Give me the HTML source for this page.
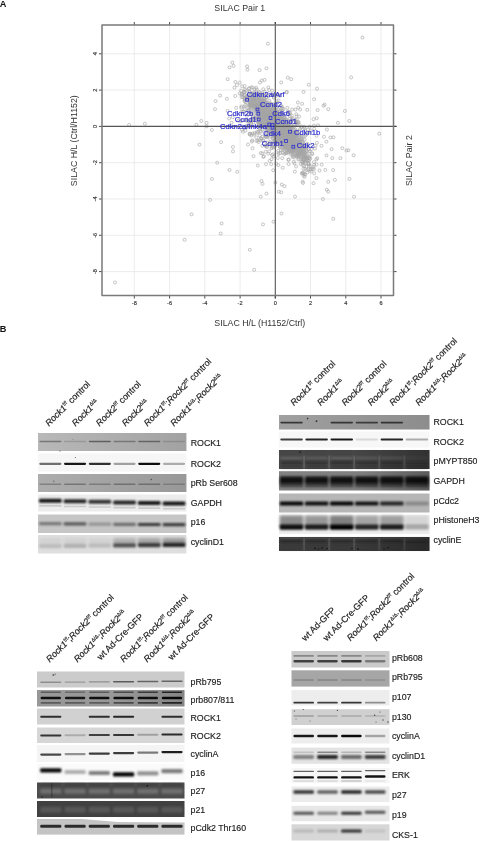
<!DOCTYPE html>
<html><head><meta charset="utf-8"><title>Figure</title>
<style>
html,body{margin:0;padding:0;background:#fff;}
svg{display:block;}
text{font-family:"Liberation Sans", Arial, sans-serif;}
</style></head><body>
<svg width="480" height="841" viewBox="0 0 480 841">
<defs>
<filter id="b1" x="-10%" y="-200%" width="120%" height="500%"><feGaussianBlur stdDeviation="0.7 0.5"/></filter>
<filter id="b2" x="-10%" y="-200%" width="120%" height="500%"><feGaussianBlur stdDeviation="1.0 0.9"/></filter>
<filter id="b3" x="-10%" y="-200%" width="120%" height="500%"><feGaussianBlur stdDeviation="1.4 1.6"/></filter>
<filter id="cb" x="-20%" y="-20%" width="140%" height="140%"><feGaussianBlur stdDeviation="2.2"/></filter>
<linearGradient id="gr" x1="0" x2="1" y1="0" y2="0"><stop offset="0" stop-color="#000" stop-opacity="0"/><stop offset="0.55" stop-color="#000" stop-opacity="0.03"/><stop offset="1" stop-color="#000" stop-opacity="0.3"/></linearGradient>
<linearGradient id="gr2" x1="0" x2="1" y1="0" y2="0"><stop offset="0" stop-color="#000" stop-opacity="0"/><stop offset="1" stop-color="#000" stop-opacity="0.12"/></linearGradient>
<filter id="tb"><feGaussianBlur stdDeviation="0.25"/></filter>
</defs>
<rect width="480" height="841" fill="#fff"/>

<g id="panelA">
<text x="-0.2" y="6.7" font-size="9.2" font-weight="bold" fill="#111">A</text>
<text x="239.8" y="11.4" font-size="8.8" text-anchor="middle" fill="#333">SILAC Pair 1</text>
<text x="259.8" y="326" font-size="8.8" text-anchor="middle" fill="#333">SILAC H/L (H1152/Ctrl)</text>
<text transform="translate(77.3,140.7) rotate(-90)" font-size="8.8" text-anchor="middle" fill="#333">SILAC H/L (Ctrl/H1152)</text>
<text transform="translate(412.3,160.6) rotate(-90)" font-size="8.8" text-anchor="middle" fill="#333">SILAC Pair 2</text>
<path d="M134.3 25V295.5 M169.6 25V295.5 M204.8 25V295.5 M240.1 25V295.5 M310.5 25V295.5 M345.8 25V295.5 M381.0 25V295.5 M102 271.6H393.5 M102 235.3H393.5 M102 199.0H393.5 M102 162.7H393.5 M102 90.1H393.5 M102 53.8H393.5" stroke="#e4e4e4" stroke-width="0.7" fill="none"/>
<g fill="#adadad" stroke="none" filter="url(#cb)">
<ellipse cx="278" cy="127" rx="45" ry="11.5" transform="rotate(48 278 127)"/>
</g>
<g fill="none" stroke="#a6a6a6" stroke-width="0.65">
<rect x="275.8" y="119.0" width="2.8" height="2.8" rx="1"/><rect x="272.1" y="123.3" width="2.8" height="2.8" rx="1"/><rect x="263.8" y="113.0" width="2.8" height="2.8" rx="1"/><rect x="292.6" y="138.5" width="2.8" height="2.8" rx="1"/><rect x="290.8" y="138.3" width="2.8" height="2.8" rx="1"/><rect x="282.4" y="129.6" width="2.8" height="2.8" rx="1"/><rect x="259.7" y="97.8" width="2.8" height="2.8" rx="1"/><rect x="285.4" y="129.7" width="2.8" height="2.8" rx="1"/><rect x="246.7" y="109.6" width="2.8" height="2.8" rx="1"/><rect x="263.0" y="114.8" width="2.8" height="2.8" rx="1"/><rect x="280.2" y="129.5" width="2.8" height="2.8" rx="1"/><rect x="280.0" y="135.3" width="2.8" height="2.8" rx="1"/><rect x="282.4" y="127.4" width="2.8" height="2.8" rx="1"/><rect x="276.6" y="107.7" width="2.8" height="2.8" rx="1"/><rect x="289.4" y="127.1" width="2.8" height="2.8" rx="1"/><rect x="265.1" y="119.8" width="2.8" height="2.8" rx="1"/><rect x="271.7" y="120.7" width="2.8" height="2.8" rx="1"/><rect x="285.7" y="132.6" width="2.8" height="2.8" rx="1"/><rect x="266.2" y="123.3" width="2.8" height="2.8" rx="1"/><rect x="276.0" y="112.0" width="2.8" height="2.8" rx="1"/><rect x="267.5" y="112.6" width="2.8" height="2.8" rx="1"/><rect x="274.6" y="138.0" width="2.8" height="2.8" rx="1"/><rect x="283.6" y="119.5" width="2.8" height="2.8" rx="1"/><rect x="249.6" y="98.4" width="2.8" height="2.8" rx="1"/><rect x="271.2" y="127.4" width="2.8" height="2.8" rx="1"/><rect x="282.5" y="132.2" width="2.8" height="2.8" rx="1"/><rect x="262.1" y="100.7" width="2.8" height="2.8" rx="1"/><rect x="289.6" y="129.9" width="2.8" height="2.8" rx="1"/><rect x="296.5" y="143.4" width="2.8" height="2.8" rx="1"/><rect x="271.7" y="132.8" width="2.8" height="2.8" rx="1"/><rect x="281.3" y="136.5" width="2.8" height="2.8" rx="1"/><rect x="264.6" y="124.6" width="2.8" height="2.8" rx="1"/><rect x="261.7" y="114.0" width="2.8" height="2.8" rx="1"/><rect x="282.9" y="152.5" width="2.8" height="2.8" rx="1"/><rect x="259.3" y="103.6" width="2.8" height="2.8" rx="1"/><rect x="297.6" y="142.4" width="2.8" height="2.8" rx="1"/><rect x="240.2" y="110.4" width="2.8" height="2.8" rx="1"/><rect x="277.4" y="133.4" width="2.8" height="2.8" rx="1"/><rect x="267.2" y="104.8" width="2.8" height="2.8" rx="1"/><rect x="291.2" y="139.6" width="2.8" height="2.8" rx="1"/><rect x="281.8" y="126.4" width="2.8" height="2.8" rx="1"/><rect x="299.7" y="144.3" width="2.8" height="2.8" rx="1"/><rect x="285.8" y="129.7" width="2.8" height="2.8" rx="1"/><rect x="263.0" y="97.1" width="2.8" height="2.8" rx="1"/><rect x="291.2" y="135.8" width="2.8" height="2.8" rx="1"/><rect x="248.5" y="100.5" width="2.8" height="2.8" rx="1"/><rect x="278.3" y="145.3" width="2.8" height="2.8" rx="1"/><rect x="279.2" y="117.6" width="2.8" height="2.8" rx="1"/><rect x="267.9" y="99.2" width="2.8" height="2.8" rx="1"/><rect x="282.8" y="133.4" width="2.8" height="2.8" rx="1"/><rect x="283.8" y="126.5" width="2.8" height="2.8" rx="1"/><rect x="283.7" y="121.3" width="2.8" height="2.8" rx="1"/><rect x="266.2" y="117.7" width="2.8" height="2.8" rx="1"/><rect x="289.8" y="139.4" width="2.8" height="2.8" rx="1"/><rect x="270.1" y="108.3" width="2.8" height="2.8" rx="1"/><rect x="292.9" y="147.5" width="2.8" height="2.8" rx="1"/><rect x="258.5" y="106.4" width="2.8" height="2.8" rx="1"/><rect x="273.2" y="124.3" width="2.8" height="2.8" rx="1"/><rect x="289.2" y="149.4" width="2.8" height="2.8" rx="1"/><rect x="286.2" y="148.5" width="2.8" height="2.8" rx="1"/><rect x="269.7" y="111.1" width="2.8" height="2.8" rx="1"/><rect x="295.0" y="136.7" width="2.8" height="2.8" rx="1"/><rect x="281.6" y="129.1" width="2.8" height="2.8" rx="1"/><rect x="281.3" y="124.4" width="2.8" height="2.8" rx="1"/><rect x="275.7" y="121.2" width="2.8" height="2.8" rx="1"/><rect x="283.8" y="133.0" width="2.8" height="2.8" rx="1"/><rect x="289.0" y="133.0" width="2.8" height="2.8" rx="1"/><rect x="303.5" y="151.5" width="2.8" height="2.8" rx="1"/><rect x="269.3" y="120.8" width="2.8" height="2.8" rx="1"/><rect x="280.9" y="120.5" width="2.8" height="2.8" rx="1"/><rect x="274.2" y="118.5" width="2.8" height="2.8" rx="1"/><rect x="287.2" y="162.7" width="2.8" height="2.8" rx="1"/><rect x="263.6" y="108.2" width="2.8" height="2.8" rx="1"/><rect x="282.7" y="129.4" width="2.8" height="2.8" rx="1"/><rect x="274.3" y="115.9" width="2.8" height="2.8" rx="1"/><rect x="277.5" y="131.4" width="2.8" height="2.8" rx="1"/><rect x="308.9" y="157.2" width="2.8" height="2.8" rx="1"/><rect x="269.1" y="117.7" width="2.8" height="2.8" rx="1"/><rect x="273.4" y="122.2" width="2.8" height="2.8" rx="1"/><rect x="239.7" y="89.3" width="2.8" height="2.8" rx="1"/><rect x="283.5" y="144.6" width="2.8" height="2.8" rx="1"/><rect x="280.4" y="119.6" width="2.8" height="2.8" rx="1"/><rect x="294.6" y="129.9" width="2.8" height="2.8" rx="1"/><rect x="253.3" y="102.9" width="2.8" height="2.8" rx="1"/><rect x="275.3" y="117.3" width="2.8" height="2.8" rx="1"/><rect x="277.2" y="152.8" width="2.8" height="2.8" rx="1"/><rect x="283.2" y="147.0" width="2.8" height="2.8" rx="1"/><rect x="277.9" y="141.5" width="2.8" height="2.8" rx="1"/><rect x="284.6" y="121.8" width="2.8" height="2.8" rx="1"/><rect x="275.6" y="122.0" width="2.8" height="2.8" rx="1"/><rect x="287.3" y="135.4" width="2.8" height="2.8" rx="1"/><rect x="282.9" y="116.6" width="2.8" height="2.8" rx="1"/><rect x="288.3" y="141.0" width="2.8" height="2.8" rx="1"/><rect x="305.6" y="168.7" width="2.8" height="2.8" rx="1"/><rect x="286.8" y="139.0" width="2.8" height="2.8" rx="1"/><rect x="281.7" y="123.5" width="2.8" height="2.8" rx="1"/><rect x="282.5" y="125.1" width="2.8" height="2.8" rx="1"/><rect x="249.9" y="110.8" width="2.8" height="2.8" rx="1"/><rect x="279.6" y="138.1" width="2.8" height="2.8" rx="1"/><rect x="256.4" y="117.6" width="2.8" height="2.8" rx="1"/><rect x="296.2" y="139.1" width="2.8" height="2.8" rx="1"/><rect x="290.5" y="149.9" width="2.8" height="2.8" rx="1"/><rect x="271.0" y="130.4" width="2.8" height="2.8" rx="1"/><rect x="294.0" y="128.2" width="2.8" height="2.8" rx="1"/><rect x="273.0" y="105.3" width="2.8" height="2.8" rx="1"/><rect x="288.1" y="139.6" width="2.8" height="2.8" rx="1"/><rect x="258.5" y="90.9" width="2.8" height="2.8" rx="1"/><rect x="272.4" y="126.5" width="2.8" height="2.8" rx="1"/><rect x="283.6" y="128.6" width="2.8" height="2.8" rx="1"/><rect x="290.4" y="150.7" width="2.8" height="2.8" rx="1"/><rect x="298.2" y="133.8" width="2.8" height="2.8" rx="1"/><rect x="294.0" y="146.1" width="2.8" height="2.8" rx="1"/><rect x="272.1" y="109.8" width="2.8" height="2.8" rx="1"/><rect x="278.6" y="126.0" width="2.8" height="2.8" rx="1"/><rect x="293.2" y="146.1" width="2.8" height="2.8" rx="1"/><rect x="245.7" y="94.8" width="2.8" height="2.8" rx="1"/><rect x="257.2" y="95.3" width="2.8" height="2.8" rx="1"/><rect x="277.6" y="132.3" width="2.8" height="2.8" rx="1"/><rect x="280.5" y="120.9" width="2.8" height="2.8" rx="1"/><rect x="284.0" y="119.9" width="2.8" height="2.8" rx="1"/><rect x="280.9" y="119.3" width="2.8" height="2.8" rx="1"/><rect x="303.2" y="138.2" width="2.8" height="2.8" rx="1"/><rect x="272.4" y="111.5" width="2.8" height="2.8" rx="1"/><rect x="247.6" y="103.9" width="2.8" height="2.8" rx="1"/><rect x="257.0" y="92.6" width="2.8" height="2.8" rx="1"/><rect x="260.9" y="107.9" width="2.8" height="2.8" rx="1"/><rect x="274.0" y="122.5" width="2.8" height="2.8" rx="1"/><rect x="270.2" y="115.7" width="2.8" height="2.8" rx="1"/><rect x="299.4" y="149.8" width="2.8" height="2.8" rx="1"/><rect x="288.1" y="127.7" width="2.8" height="2.8" rx="1"/><rect x="267.9" y="128.2" width="2.8" height="2.8" rx="1"/><rect x="274.8" y="112.2" width="2.8" height="2.8" rx="1"/><rect x="252.8" y="104.9" width="2.8" height="2.8" rx="1"/><rect x="293.1" y="135.3" width="2.8" height="2.8" rx="1"/><rect x="280.6" y="121.3" width="2.8" height="2.8" rx="1"/><rect x="272.9" y="132.9" width="2.8" height="2.8" rx="1"/><rect x="253.7" y="106.2" width="2.8" height="2.8" rx="1"/><rect x="285.4" y="140.5" width="2.8" height="2.8" rx="1"/><rect x="261.4" y="116.0" width="2.8" height="2.8" rx="1"/><rect x="256.6" y="104.2" width="2.8" height="2.8" rx="1"/><rect x="263.4" y="106.8" width="2.8" height="2.8" rx="1"/><rect x="248.4" y="90.6" width="2.8" height="2.8" rx="1"/><rect x="258.9" y="125.2" width="2.8" height="2.8" rx="1"/><rect x="284.3" y="136.4" width="2.8" height="2.8" rx="1"/><rect x="244.1" y="98.0" width="2.8" height="2.8" rx="1"/><rect x="278.0" y="131.2" width="2.8" height="2.8" rx="1"/><rect x="290.0" y="132.4" width="2.8" height="2.8" rx="1"/><rect x="286.5" y="132.7" width="2.8" height="2.8" rx="1"/><rect x="296.6" y="140.5" width="2.8" height="2.8" rx="1"/><rect x="272.0" y="141.1" width="2.8" height="2.8" rx="1"/><rect x="294.3" y="131.3" width="2.8" height="2.8" rx="1"/><rect x="270.5" y="123.1" width="2.8" height="2.8" rx="1"/><rect x="292.4" y="160.3" width="2.8" height="2.8" rx="1"/><rect x="294.3" y="120.1" width="2.8" height="2.8" rx="1"/><rect x="268.2" y="108.8" width="2.8" height="2.8" rx="1"/><rect x="299.8" y="151.9" width="2.8" height="2.8" rx="1"/><rect x="288.0" y="128.6" width="2.8" height="2.8" rx="1"/><rect x="264.7" y="112.8" width="2.8" height="2.8" rx="1"/><rect x="284.3" y="125.2" width="2.8" height="2.8" rx="1"/><rect x="275.2" y="125.4" width="2.8" height="2.8" rx="1"/><rect x="262.0" y="112.5" width="2.8" height="2.8" rx="1"/><rect x="288.3" y="136.9" width="2.8" height="2.8" rx="1"/><rect x="261.7" y="117.1" width="2.8" height="2.8" rx="1"/><rect x="315.8" y="156.8" width="2.8" height="2.8" rx="1"/><rect x="271.9" y="146.1" width="2.8" height="2.8" rx="1"/><rect x="286.7" y="131.4" width="2.8" height="2.8" rx="1"/><rect x="299.9" y="146.5" width="2.8" height="2.8" rx="1"/><rect x="278.2" y="121.6" width="2.8" height="2.8" rx="1"/><rect x="257.1" y="93.0" width="2.8" height="2.8" rx="1"/><rect x="277.2" y="132.8" width="2.8" height="2.8" rx="1"/><rect x="302.1" y="135.0" width="2.8" height="2.8" rx="1"/><rect x="255.6" y="108.6" width="2.8" height="2.8" rx="1"/><rect x="281.1" y="128.2" width="2.8" height="2.8" rx="1"/><rect x="266.7" y="124.0" width="2.8" height="2.8" rx="1"/><rect x="308.4" y="149.7" width="2.8" height="2.8" rx="1"/><rect x="254.9" y="114.7" width="2.8" height="2.8" rx="1"/><rect x="302.9" y="144.1" width="2.8" height="2.8" rx="1"/><rect x="303.5" y="146.6" width="2.8" height="2.8" rx="1"/><rect x="266.8" y="111.6" width="2.8" height="2.8" rx="1"/><rect x="245.6" y="98.4" width="2.8" height="2.8" rx="1"/><rect x="278.4" y="121.7" width="2.8" height="2.8" rx="1"/><rect x="266.8" y="115.4" width="2.8" height="2.8" rx="1"/><rect x="284.2" y="129.6" width="2.8" height="2.8" rx="1"/><rect x="285.6" y="132.9" width="2.8" height="2.8" rx="1"/><rect x="276.3" y="116.8" width="2.8" height="2.8" rx="1"/><rect x="273.1" y="129.6" width="2.8" height="2.8" rx="1"/><rect x="268.6" y="116.3" width="2.8" height="2.8" rx="1"/><rect x="275.9" y="122.7" width="2.8" height="2.8" rx="1"/><rect x="277.4" y="124.2" width="2.8" height="2.8" rx="1"/><rect x="268.7" y="129.0" width="2.8" height="2.8" rx="1"/><rect x="287.0" y="125.9" width="2.8" height="2.8" rx="1"/><rect x="281.1" y="131.9" width="2.8" height="2.8" rx="1"/><rect x="277.4" y="135.8" width="2.8" height="2.8" rx="1"/><rect x="252.9" y="98.3" width="2.8" height="2.8" rx="1"/><rect x="268.4" y="108.6" width="2.8" height="2.8" rx="1"/><rect x="250.0" y="122.3" width="2.8" height="2.8" rx="1"/><rect x="271.2" y="103.1" width="2.8" height="2.8" rx="1"/><rect x="265.0" y="126.1" width="2.8" height="2.8" rx="1"/><rect x="269.5" y="111.9" width="2.8" height="2.8" rx="1"/><rect x="283.7" y="131.1" width="2.8" height="2.8" rx="1"/><rect x="298.7" y="142.4" width="2.8" height="2.8" rx="1"/><rect x="279.2" y="121.9" width="2.8" height="2.8" rx="1"/><rect x="302.2" y="143.5" width="2.8" height="2.8" rx="1"/><rect x="284.2" y="144.4" width="2.8" height="2.8" rx="1"/><rect x="278.2" y="119.5" width="2.8" height="2.8" rx="1"/><rect x="278.0" y="115.8" width="2.8" height="2.8" rx="1"/><rect x="288.5" y="129.0" width="2.8" height="2.8" rx="1"/><rect x="286.3" y="110.1" width="2.8" height="2.8" rx="1"/><rect x="291.1" y="143.3" width="2.8" height="2.8" rx="1"/><rect x="290.4" y="114.1" width="2.8" height="2.8" rx="1"/><rect x="276.5" y="116.1" width="2.8" height="2.8" rx="1"/><rect x="288.9" y="138.6" width="2.8" height="2.8" rx="1"/><rect x="262.7" y="107.9" width="2.8" height="2.8" rx="1"/><rect x="286.6" y="124.7" width="2.8" height="2.8" rx="1"/><rect x="286.5" y="135.8" width="2.8" height="2.8" rx="1"/><rect x="290.0" y="134.4" width="2.8" height="2.8" rx="1"/><rect x="279.4" y="127.6" width="2.8" height="2.8" rx="1"/><rect x="276.8" y="118.4" width="2.8" height="2.8" rx="1"/><rect x="260.2" y="113.3" width="2.8" height="2.8" rx="1"/><rect x="269.4" y="132.0" width="2.8" height="2.8" rx="1"/><rect x="261.2" y="128.4" width="2.8" height="2.8" rx="1"/><rect x="270.7" y="112.8" width="2.8" height="2.8" rx="1"/><rect x="283.4" y="133.2" width="2.8" height="2.8" rx="1"/><rect x="266.7" y="128.4" width="2.8" height="2.8" rx="1"/><rect x="302.1" y="148.0" width="2.8" height="2.8" rx="1"/><rect x="286.0" y="144.4" width="2.8" height="2.8" rx="1"/><rect x="265.3" y="131.0" width="2.8" height="2.8" rx="1"/><rect x="291.0" y="131.5" width="2.8" height="2.8" rx="1"/><rect x="252.3" y="98.8" width="2.8" height="2.8" rx="1"/><rect x="275.9" y="142.1" width="2.8" height="2.8" rx="1"/><rect x="248.3" y="104.6" width="2.8" height="2.8" rx="1"/><rect x="261.7" y="122.8" width="2.8" height="2.8" rx="1"/><rect x="278.2" y="124.3" width="2.8" height="2.8" rx="1"/><rect x="288.0" y="130.5" width="2.8" height="2.8" rx="1"/><rect x="301.2" y="140.5" width="2.8" height="2.8" rx="1"/><rect x="257.5" y="109.1" width="2.8" height="2.8" rx="1"/><rect x="257.9" y="115.3" width="2.8" height="2.8" rx="1"/><rect x="275.5" y="123.8" width="2.8" height="2.8" rx="1"/><rect x="275.0" y="139.3" width="2.8" height="2.8" rx="1"/><rect x="260.8" y="107.9" width="2.8" height="2.8" rx="1"/><rect x="272.5" y="123.7" width="2.8" height="2.8" rx="1"/><rect x="272.0" y="127.7" width="2.8" height="2.8" rx="1"/><rect x="287.1" y="133.1" width="2.8" height="2.8" rx="1"/><rect x="272.1" y="126.9" width="2.8" height="2.8" rx="1"/><rect x="261.0" y="135.4" width="2.8" height="2.8" rx="1"/><rect x="264.3" y="111.1" width="2.8" height="2.8" rx="1"/><rect x="258.5" y="103.1" width="2.8" height="2.8" rx="1"/><rect x="271.7" y="133.5" width="2.8" height="2.8" rx="1"/><rect x="271.8" y="123.0" width="2.8" height="2.8" rx="1"/><rect x="285.3" y="128.5" width="2.8" height="2.8" rx="1"/><rect x="271.9" y="128.5" width="2.8" height="2.8" rx="1"/><rect x="274.4" y="123.3" width="2.8" height="2.8" rx="1"/><rect x="287.3" y="133.9" width="2.8" height="2.8" rx="1"/><rect x="260.8" y="121.3" width="2.8" height="2.8" rx="1"/><rect x="268.2" y="123.3" width="2.8" height="2.8" rx="1"/><rect x="261.9" y="110.0" width="2.8" height="2.8" rx="1"/><rect x="270.9" y="117.7" width="2.8" height="2.8" rx="1"/><rect x="281.1" y="134.2" width="2.8" height="2.8" rx="1"/><rect x="304.3" y="158.9" width="2.8" height="2.8" rx="1"/><rect x="291.0" y="139.8" width="2.8" height="2.8" rx="1"/><rect x="279.0" y="151.7" width="2.8" height="2.8" rx="1"/><rect x="268.3" y="113.4" width="2.8" height="2.8" rx="1"/><rect x="295.6" y="122.4" width="2.8" height="2.8" rx="1"/><rect x="286.9" y="123.5" width="2.8" height="2.8" rx="1"/><rect x="290.9" y="131.2" width="2.8" height="2.8" rx="1"/><rect x="282.2" y="132.8" width="2.8" height="2.8" rx="1"/><rect x="277.7" y="137.2" width="2.8" height="2.8" rx="1"/><rect x="286.5" y="146.3" width="2.8" height="2.8" rx="1"/><rect x="290.1" y="118.5" width="2.8" height="2.8" rx="1"/><rect x="273.8" y="121.8" width="2.8" height="2.8" rx="1"/><rect x="291.3" y="141.1" width="2.8" height="2.8" rx="1"/><rect x="267.6" y="112.5" width="2.8" height="2.8" rx="1"/><rect x="287.4" y="129.8" width="2.8" height="2.8" rx="1"/><rect x="275.4" y="106.0" width="2.8" height="2.8" rx="1"/><rect x="297.7" y="148.1" width="2.8" height="2.8" rx="1"/><rect x="277.8" y="130.8" width="2.8" height="2.8" rx="1"/><rect x="290.9" y="148.0" width="2.8" height="2.8" rx="1"/><rect x="282.7" y="136.7" width="2.8" height="2.8" rx="1"/><rect x="271.3" y="111.9" width="2.8" height="2.8" rx="1"/><rect x="293.3" y="143.6" width="2.8" height="2.8" rx="1"/><rect x="272.0" y="111.7" width="2.8" height="2.8" rx="1"/><rect x="277.4" y="122.8" width="2.8" height="2.8" rx="1"/><rect x="301.3" y="140.9" width="2.8" height="2.8" rx="1"/><rect x="281.2" y="107.0" width="2.8" height="2.8" rx="1"/><rect x="280.4" y="121.3" width="2.8" height="2.8" rx="1"/><rect x="268.2" y="116.2" width="2.8" height="2.8" rx="1"/><rect x="263.2" y="92.2" width="2.8" height="2.8" rx="1"/><rect x="287.8" y="149.8" width="2.8" height="2.8" rx="1"/><rect x="249.6" y="111.6" width="2.8" height="2.8" rx="1"/><rect x="289.1" y="143.5" width="2.8" height="2.8" rx="1"/><rect x="274.2" y="125.6" width="2.8" height="2.8" rx="1"/><rect x="269.7" y="128.4" width="2.8" height="2.8" rx="1"/><rect x="269.8" y="132.1" width="2.8" height="2.8" rx="1"/><rect x="277.2" y="122.6" width="2.8" height="2.8" rx="1"/><rect x="281.3" y="132.6" width="2.8" height="2.8" rx="1"/><rect x="265.9" y="111.7" width="2.8" height="2.8" rx="1"/><rect x="278.1" y="110.9" width="2.8" height="2.8" rx="1"/><rect x="285.7" y="136.2" width="2.8" height="2.8" rx="1"/><rect x="267.2" y="121.7" width="2.8" height="2.8" rx="1"/><rect x="263.0" y="113.6" width="2.8" height="2.8" rx="1"/><rect x="282.8" y="126.7" width="2.8" height="2.8" rx="1"/><rect x="294.0" y="123.1" width="2.8" height="2.8" rx="1"/><rect x="267.7" y="115.1" width="2.8" height="2.8" rx="1"/><rect x="302.7" y="172.7" width="2.8" height="2.8" rx="1"/><rect x="270.8" y="116.9" width="2.8" height="2.8" rx="1"/><rect x="280.5" y="125.2" width="2.8" height="2.8" rx="1"/><rect x="275.3" y="120.0" width="2.8" height="2.8" rx="1"/><rect x="281.0" y="122.1" width="2.8" height="2.8" rx="1"/><rect x="248.3" y="102.8" width="2.8" height="2.8" rx="1"/><rect x="271.5" y="129.8" width="2.8" height="2.8" rx="1"/><rect x="266.4" y="107.5" width="2.8" height="2.8" rx="1"/><rect x="271.5" y="113.0" width="2.8" height="2.8" rx="1"/><rect x="287.5" y="134.0" width="2.8" height="2.8" rx="1"/><rect x="282.4" y="132.6" width="2.8" height="2.8" rx="1"/><rect x="258.6" y="105.5" width="2.8" height="2.8" rx="1"/><rect x="279.7" y="133.8" width="2.8" height="2.8" rx="1"/><rect x="279.0" y="120.1" width="2.8" height="2.8" rx="1"/><rect x="268.6" y="109.8" width="2.8" height="2.8" rx="1"/><rect x="297.3" y="153.6" width="2.8" height="2.8" rx="1"/><rect x="277.7" y="127.7" width="2.8" height="2.8" rx="1"/><rect x="297.5" y="145.0" width="2.8" height="2.8" rx="1"/><rect x="284.5" y="140.8" width="2.8" height="2.8" rx="1"/><rect x="276.3" y="124.8" width="2.8" height="2.8" rx="1"/><rect x="261.2" y="93.5" width="2.8" height="2.8" rx="1"/><rect x="279.3" y="145.8" width="2.8" height="2.8" rx="1"/><rect x="285.3" y="136.0" width="2.8" height="2.8" rx="1"/><rect x="284.0" y="129.5" width="2.8" height="2.8" rx="1"/><rect x="256.6" y="105.1" width="2.8" height="2.8" rx="1"/><rect x="292.6" y="148.5" width="2.8" height="2.8" rx="1"/><rect x="257.0" y="117.1" width="2.8" height="2.8" rx="1"/><rect x="262.8" y="106.4" width="2.8" height="2.8" rx="1"/><rect x="300.0" y="146.6" width="2.8" height="2.8" rx="1"/><rect x="290.6" y="117.9" width="2.8" height="2.8" rx="1"/><rect x="266.7" y="120.9" width="2.8" height="2.8" rx="1"/><rect x="285.9" y="129.8" width="2.8" height="2.8" rx="1"/><rect x="258.0" y="116.4" width="2.8" height="2.8" rx="1"/><rect x="281.4" y="127.9" width="2.8" height="2.8" rx="1"/><rect x="259.1" y="107.7" width="2.8" height="2.8" rx="1"/><rect x="271.9" y="115.3" width="2.8" height="2.8" rx="1"/><rect x="274.6" y="123.8" width="2.8" height="2.8" rx="1"/><rect x="277.2" y="115.1" width="2.8" height="2.8" rx="1"/><rect x="292.3" y="146.1" width="2.8" height="2.8" rx="1"/><rect x="283.5" y="140.4" width="2.8" height="2.8" rx="1"/><rect x="281.1" y="122.5" width="2.8" height="2.8" rx="1"/><rect x="293.8" y="147.9" width="2.8" height="2.8" rx="1"/><rect x="276.6" y="123.0" width="2.8" height="2.8" rx="1"/><rect x="257.7" y="104.0" width="2.8" height="2.8" rx="1"/><rect x="269.8" y="113.8" width="2.8" height="2.8" rx="1"/><rect x="252.6" y="118.5" width="2.8" height="2.8" rx="1"/><rect x="278.3" y="124.3" width="2.8" height="2.8" rx="1"/><rect x="274.0" y="113.2" width="2.8" height="2.8" rx="1"/><rect x="270.1" y="124.0" width="2.8" height="2.8" rx="1"/><rect x="274.9" y="139.0" width="2.8" height="2.8" rx="1"/><rect x="267.9" y="115.7" width="2.8" height="2.8" rx="1"/><rect x="286.5" y="137.6" width="2.8" height="2.8" rx="1"/><rect x="277.2" y="132.4" width="2.8" height="2.8" rx="1"/><rect x="288.5" y="121.4" width="2.8" height="2.8" rx="1"/><rect x="279.5" y="104.3" width="2.8" height="2.8" rx="1"/><rect x="268.5" y="115.9" width="2.8" height="2.8" rx="1"/><rect x="283.7" y="122.6" width="2.8" height="2.8" rx="1"/><rect x="250.6" y="117.6" width="2.8" height="2.8" rx="1"/><rect x="288.1" y="129.7" width="2.8" height="2.8" rx="1"/><rect x="297.3" y="121.3" width="2.8" height="2.8" rx="1"/><rect x="280.4" y="126.7" width="2.8" height="2.8" rx="1"/><rect x="290.1" y="136.2" width="2.8" height="2.8" rx="1"/><rect x="291.5" y="154.0" width="2.8" height="2.8" rx="1"/><rect x="254.9" y="136.0" width="2.8" height="2.8" rx="1"/><rect x="285.0" y="138.1" width="2.8" height="2.8" rx="1"/><rect x="298.7" y="127.7" width="2.8" height="2.8" rx="1"/><rect x="275.2" y="126.1" width="2.8" height="2.8" rx="1"/><rect x="266.1" y="122.0" width="2.8" height="2.8" rx="1"/><rect x="271.7" y="113.2" width="2.8" height="2.8" rx="1"/><rect x="277.3" y="125.2" width="2.8" height="2.8" rx="1"/><rect x="278.8" y="118.3" width="2.8" height="2.8" rx="1"/><rect x="282.1" y="132.6" width="2.8" height="2.8" rx="1"/><rect x="284.2" y="135.0" width="2.8" height="2.8" rx="1"/><rect x="269.1" y="102.1" width="2.8" height="2.8" rx="1"/><rect x="277.7" y="136.0" width="2.8" height="2.8" rx="1"/><rect x="291.8" y="138.4" width="2.8" height="2.8" rx="1"/><rect x="264.7" y="95.6" width="2.8" height="2.8" rx="1"/><rect x="285.1" y="125.5" width="2.8" height="2.8" rx="1"/><rect x="278.3" y="128.5" width="2.8" height="2.8" rx="1"/><rect x="261.8" y="98.9" width="2.8" height="2.8" rx="1"/><rect x="275.5" y="126.8" width="2.8" height="2.8" rx="1"/><rect x="281.4" y="129.5" width="2.8" height="2.8" rx="1"/><rect x="283.3" y="136.2" width="2.8" height="2.8" rx="1"/><rect x="265.6" y="134.6" width="2.8" height="2.8" rx="1"/><rect x="274.5" y="115.9" width="2.8" height="2.8" rx="1"/><rect x="291.6" y="145.3" width="2.8" height="2.8" rx="1"/><rect x="282.8" y="115.9" width="2.8" height="2.8" rx="1"/><rect x="276.0" y="117.0" width="2.8" height="2.8" rx="1"/><rect x="297.9" y="148.2" width="2.8" height="2.8" rx="1"/><rect x="288.5" y="145.4" width="2.8" height="2.8" rx="1"/><rect x="278.8" y="128.3" width="2.8" height="2.8" rx="1"/><rect x="283.5" y="121.3" width="2.8" height="2.8" rx="1"/><rect x="303.4" y="161.4" width="2.8" height="2.8" rx="1"/><rect x="271.7" y="114.6" width="2.8" height="2.8" rx="1"/><rect x="265.7" y="108.0" width="2.8" height="2.8" rx="1"/><rect x="282.4" y="134.3" width="2.8" height="2.8" rx="1"/><rect x="275.7" y="139.7" width="2.8" height="2.8" rx="1"/><rect x="278.6" y="142.9" width="2.8" height="2.8" rx="1"/><rect x="265.0" y="117.9" width="2.8" height="2.8" rx="1"/><rect x="275.7" y="115.4" width="2.8" height="2.8" rx="1"/><rect x="275.6" y="128.0" width="2.8" height="2.8" rx="1"/><rect x="291.1" y="125.1" width="2.8" height="2.8" rx="1"/><rect x="278.4" y="123.4" width="2.8" height="2.8" rx="1"/><rect x="293.5" y="141.0" width="2.8" height="2.8" rx="1"/><rect x="272.5" y="95.4" width="2.8" height="2.8" rx="1"/><rect x="294.7" y="165.1" width="2.8" height="2.8" rx="1"/><rect x="278.1" y="122.5" width="2.8" height="2.8" rx="1"/><rect x="292.0" y="135.3" width="2.8" height="2.8" rx="1"/><rect x="267.9" y="126.2" width="2.8" height="2.8" rx="1"/><rect x="282.9" y="121.6" width="2.8" height="2.8" rx="1"/><rect x="257.8" y="114.6" width="2.8" height="2.8" rx="1"/><rect x="266.7" y="133.8" width="2.8" height="2.8" rx="1"/><rect x="271.1" y="123.4" width="2.8" height="2.8" rx="1"/><rect x="278.8" y="134.6" width="2.8" height="2.8" rx="1"/><rect x="263.5" y="114.6" width="2.8" height="2.8" rx="1"/><rect x="272.7" y="127.4" width="2.8" height="2.8" rx="1"/><rect x="280.4" y="121.6" width="2.8" height="2.8" rx="1"/><rect x="309.2" y="129.0" width="2.8" height="2.8" rx="1"/><rect x="260.3" y="117.3" width="2.8" height="2.8" rx="1"/><rect x="258.2" y="68.7" width="2.8" height="2.8" rx="1"/><rect x="264.9" y="114.7" width="2.8" height="2.8" rx="1"/><rect x="270.1" y="146.8" width="2.8" height="2.8" rx="1"/><rect x="282.1" y="133.5" width="2.8" height="2.8" rx="1"/><rect x="252.2" y="94.1" width="2.8" height="2.8" rx="1"/><rect x="274.8" y="162.3" width="2.8" height="2.8" rx="1"/><rect x="289.3" y="136.8" width="2.8" height="2.8" rx="1"/><rect x="286.8" y="129.4" width="2.8" height="2.8" rx="1"/><rect x="292.3" y="148.8" width="2.8" height="2.8" rx="1"/><rect x="284.3" y="143.6" width="2.8" height="2.8" rx="1"/><rect x="278.3" y="145.1" width="2.8" height="2.8" rx="1"/><rect x="290.8" y="108.1" width="2.8" height="2.8" rx="1"/><rect x="280.6" y="134.5" width="2.8" height="2.8" rx="1"/><rect x="251.5" y="115.0" width="2.8" height="2.8" rx="1"/><rect x="287.5" y="120.3" width="2.8" height="2.8" rx="1"/><rect x="286.9" y="127.8" width="2.8" height="2.8" rx="1"/><rect x="288.1" y="112.7" width="2.8" height="2.8" rx="1"/><rect x="264.7" y="124.8" width="2.8" height="2.8" rx="1"/><rect x="289.1" y="139.5" width="2.8" height="2.8" rx="1"/><rect x="266.1" y="126.8" width="2.8" height="2.8" rx="1"/><rect x="278.0" y="116.0" width="2.8" height="2.8" rx="1"/><rect x="269.1" y="142.8" width="2.8" height="2.8" rx="1"/><rect x="283.5" y="131.0" width="2.8" height="2.8" rx="1"/><rect x="268.7" y="102.8" width="2.8" height="2.8" rx="1"/><rect x="268.4" y="124.6" width="2.8" height="2.8" rx="1"/><rect x="299.9" y="126.3" width="2.8" height="2.8" rx="1"/><rect x="270.0" y="110.9" width="2.8" height="2.8" rx="1"/><rect x="285.4" y="90.5" width="2.8" height="2.8" rx="1"/><rect x="280.1" y="106.9" width="2.8" height="2.8" rx="1"/><rect x="274.2" y="108.1" width="2.8" height="2.8" rx="1"/><rect x="283.1" y="184.8" width="2.8" height="2.8" rx="1"/><rect x="274.2" y="114.3" width="2.8" height="2.8" rx="1"/><rect x="267.9" y="130.6" width="2.8" height="2.8" rx="1"/><rect x="307.5" y="159.5" width="2.8" height="2.8" rx="1"/><rect x="260.2" y="91.8" width="2.8" height="2.8" rx="1"/><rect x="262.0" y="87.8" width="2.8" height="2.8" rx="1"/><rect x="268.7" y="115.4" width="2.8" height="2.8" rx="1"/><rect x="295.0" y="144.9" width="2.8" height="2.8" rx="1"/><rect x="239.2" y="119.5" width="2.8" height="2.8" rx="1"/><rect x="299.9" y="137.9" width="2.8" height="2.8" rx="1"/><rect x="272.2" y="104.9" width="2.8" height="2.8" rx="1"/><rect x="289.1" y="127.8" width="2.8" height="2.8" rx="1"/><rect x="240.2" y="92.7" width="2.8" height="2.8" rx="1"/><rect x="295.7" y="133.4" width="2.8" height="2.8" rx="1"/><rect x="264.6" y="162.8" width="2.8" height="2.8" rx="1"/><rect x="282.9" y="124.0" width="2.8" height="2.8" rx="1"/><rect x="303.2" y="175.4" width="2.8" height="2.8" rx="1"/><rect x="271.3" y="120.3" width="2.8" height="2.8" rx="1"/><rect x="284.2" y="144.1" width="2.8" height="2.8" rx="1"/><rect x="284.6" y="151.5" width="2.8" height="2.8" rx="1"/><rect x="274.4" y="135.1" width="2.8" height="2.8" rx="1"/><rect x="271.3" y="134.8" width="2.8" height="2.8" rx="1"/><rect x="263.2" y="90.3" width="2.8" height="2.8" rx="1"/><rect x="274.6" y="135.9" width="2.8" height="2.8" rx="1"/><rect x="288.1" y="119.9" width="2.8" height="2.8" rx="1"/><rect x="260.5" y="111.4" width="2.8" height="2.8" rx="1"/><rect x="288.5" y="129.6" width="2.8" height="2.8" rx="1"/><rect x="250.5" y="140.1" width="2.8" height="2.8" rx="1"/><rect x="296.8" y="142.7" width="2.8" height="2.8" rx="1"/><rect x="273.2" y="128.7" width="2.8" height="2.8" rx="1"/><rect x="275.3" y="134.1" width="2.8" height="2.8" rx="1"/><rect x="253.7" y="116.5" width="2.8" height="2.8" rx="1"/><rect x="261.1" y="122.1" width="2.8" height="2.8" rx="1"/><rect x="265.1" y="101.5" width="2.8" height="2.8" rx="1"/><rect x="263.2" y="98.9" width="2.8" height="2.8" rx="1"/><rect x="264.4" y="106.5" width="2.8" height="2.8" rx="1"/><rect x="297.4" y="145.9" width="2.8" height="2.8" rx="1"/><rect x="265.6" y="113.8" width="2.8" height="2.8" rx="1"/><rect x="261.0" y="144.4" width="2.8" height="2.8" rx="1"/><rect x="268.5" y="114.7" width="2.8" height="2.8" rx="1"/><rect x="269.7" y="117.7" width="2.8" height="2.8" rx="1"/><rect x="293.7" y="130.5" width="2.8" height="2.8" rx="1"/><rect x="294.4" y="134.9" width="2.8" height="2.8" rx="1"/><rect x="271.3" y="121.5" width="2.8" height="2.8" rx="1"/><rect x="268.7" y="124.5" width="2.8" height="2.8" rx="1"/><rect x="256.4" y="139.1" width="2.8" height="2.8" rx="1"/><rect x="270.6" y="120.8" width="2.8" height="2.8" rx="1"/><rect x="261.4" y="110.6" width="2.8" height="2.8" rx="1"/><rect x="281.5" y="135.6" width="2.8" height="2.8" rx="1"/><rect x="280.4" y="183.2" width="2.8" height="2.8" rx="1"/><rect x="255.0" y="139.6" width="2.8" height="2.8" rx="1"/><rect x="315.4" y="116.9" width="2.8" height="2.8" rx="1"/><rect x="240.8" y="84.9" width="2.8" height="2.8" rx="1"/><rect x="280.2" y="137.0" width="2.8" height="2.8" rx="1"/><rect x="261.9" y="155.5" width="2.8" height="2.8" rx="1"/><rect x="291.5" y="136.0" width="2.8" height="2.8" rx="1"/><rect x="270.3" y="131.7" width="2.8" height="2.8" rx="1"/><rect x="280.2" y="140.6" width="2.8" height="2.8" rx="1"/><rect x="273.9" y="134.2" width="2.8" height="2.8" rx="1"/><rect x="243.0" y="90.4" width="2.8" height="2.8" rx="1"/><rect x="285.9" y="122.1" width="2.8" height="2.8" rx="1"/><rect x="262.7" y="112.3" width="2.8" height="2.8" rx="1"/><rect x="286.0" y="134.4" width="2.8" height="2.8" rx="1"/><rect x="312.8" y="127.2" width="2.8" height="2.8" rx="1"/><rect x="244.0" y="129.3" width="2.8" height="2.8" rx="1"/><rect x="302.8" y="125.4" width="2.8" height="2.8" rx="1"/><rect x="296.8" y="133.0" width="2.8" height="2.8" rx="1"/><rect x="259.8" y="122.7" width="2.8" height="2.8" rx="1"/><rect x="279.7" y="148.5" width="2.8" height="2.8" rx="1"/><rect x="239.9" y="106.3" width="2.8" height="2.8" rx="1"/><rect x="330.2" y="147.8" width="2.8" height="2.8" rx="1"/><rect x="258.7" y="121.7" width="2.8" height="2.8" rx="1"/><rect x="271.8" y="136.6" width="2.8" height="2.8" rx="1"/><rect x="293.8" y="147.5" width="2.8" height="2.8" rx="1"/><rect x="272.6" y="96.5" width="2.8" height="2.8" rx="1"/><rect x="269.4" y="114.6" width="2.8" height="2.8" rx="1"/><rect x="272.4" y="128.6" width="2.8" height="2.8" rx="1"/><rect x="273.7" y="137.5" width="2.8" height="2.8" rx="1"/><rect x="227.7" y="117.0" width="2.8" height="2.8" rx="1"/><rect x="250.1" y="112.8" width="2.8" height="2.8" rx="1"/><rect x="275.9" y="125.0" width="2.8" height="2.8" rx="1"/><rect x="284.8" y="133.7" width="2.8" height="2.8" rx="1"/><rect x="257.4" y="119.8" width="2.8" height="2.8" rx="1"/><rect x="243.5" y="93.7" width="2.8" height="2.8" rx="1"/><rect x="287.8" y="128.7" width="2.8" height="2.8" rx="1"/><rect x="272.2" y="125.6" width="2.8" height="2.8" rx="1"/><rect x="289.3" y="140.7" width="2.8" height="2.8" rx="1"/><rect x="291.9" y="132.3" width="2.8" height="2.8" rx="1"/><rect x="291.4" y="117.2" width="2.8" height="2.8" rx="1"/><rect x="263.9" y="120.1" width="2.8" height="2.8" rx="1"/><rect x="256.3" y="120.4" width="2.8" height="2.8" rx="1"/><rect x="315.1" y="134.4" width="2.8" height="2.8" rx="1"/><rect x="281.5" y="121.0" width="2.8" height="2.8" rx="1"/><rect x="300.4" y="137.1" width="2.8" height="2.8" rx="1"/><rect x="280.8" y="156.8" width="2.8" height="2.8" rx="1"/><rect x="270.8" y="111.5" width="2.8" height="2.8" rx="1"/><rect x="297.4" y="147.8" width="2.8" height="2.8" rx="1"/><rect x="259.9" y="115.5" width="2.8" height="2.8" rx="1"/><rect x="257.8" y="123.4" width="2.8" height="2.8" rx="1"/><rect x="291.3" y="155.6" width="2.8" height="2.8" rx="1"/><rect x="296.9" y="106.2" width="2.8" height="2.8" rx="1"/><rect x="296.0" y="141.7" width="2.8" height="2.8" rx="1"/><rect x="270.8" y="112.4" width="2.8" height="2.8" rx="1"/><rect x="305.1" y="146.0" width="2.8" height="2.8" rx="1"/><rect x="294.8" y="145.1" width="2.8" height="2.8" rx="1"/><rect x="281.2" y="136.0" width="2.8" height="2.8" rx="1"/><rect x="294.4" y="120.6" width="2.8" height="2.8" rx="1"/><rect x="254.4" y="103.7" width="2.8" height="2.8" rx="1"/><rect x="273.6" y="135.0" width="2.8" height="2.8" rx="1"/><rect x="278.8" y="113.7" width="2.8" height="2.8" rx="1"/><rect x="310.6" y="151.9" width="2.8" height="2.8" rx="1"/><rect x="265.4" y="145.5" width="2.8" height="2.8" rx="1"/><rect x="304.2" y="155.9" width="2.8" height="2.8" rx="1"/><rect x="264.4" y="135.8" width="2.8" height="2.8" rx="1"/><rect x="264.2" y="135.2" width="2.8" height="2.8" rx="1"/><rect x="281.2" y="122.7" width="2.8" height="2.8" rx="1"/><rect x="278.8" y="123.8" width="2.8" height="2.8" rx="1"/><rect x="277.2" y="99.1" width="2.8" height="2.8" rx="1"/><rect x="248.7" y="132.4" width="2.8" height="2.8" rx="1"/><rect x="265.6" y="130.0" width="2.8" height="2.8" rx="1"/><rect x="257.7" y="113.1" width="2.8" height="2.8" rx="1"/><rect x="268.4" y="141.5" width="2.8" height="2.8" rx="1"/><rect x="287.5" y="110.5" width="2.8" height="2.8" rx="1"/><rect x="284.0" y="138.2" width="2.8" height="2.8" rx="1"/><rect x="276.3" y="129.1" width="2.8" height="2.8" rx="1"/><rect x="282.1" y="118.3" width="2.8" height="2.8" rx="1"/><rect x="251.1" y="146.8" width="2.8" height="2.8" rx="1"/><rect x="266.8" y="133.8" width="2.8" height="2.8" rx="1"/><rect x="279.2" y="141.9" width="2.8" height="2.8" rx="1"/><rect x="298.8" y="108.1" width="2.8" height="2.8" rx="1"/><rect x="249.7" y="119.7" width="2.8" height="2.8" rx="1"/><rect x="232.2" y="125.7" width="2.8" height="2.8" rx="1"/><rect x="252.1" y="92.6" width="2.8" height="2.8" rx="1"/><rect x="248.4" y="133.1" width="2.8" height="2.8" rx="1"/><rect x="260.2" y="96.6" width="2.8" height="2.8" rx="1"/><rect x="260.9" y="117.0" width="2.8" height="2.8" rx="1"/><rect x="293.5" y="118.6" width="2.8" height="2.8" rx="1"/><rect x="313.6" y="147.2" width="2.8" height="2.8" rx="1"/><rect x="279.5" y="126.5" width="2.8" height="2.8" rx="1"/><rect x="315.5" y="141.4" width="2.8" height="2.8" rx="1"/><rect x="275.6" y="116.7" width="2.8" height="2.8" rx="1"/><rect x="280.3" y="130.0" width="2.8" height="2.8" rx="1"/><rect x="255.6" y="130.3" width="2.8" height="2.8" rx="1"/><rect x="253.0" y="131.7" width="2.8" height="2.8" rx="1"/><rect x="298.5" y="140.4" width="2.8" height="2.8" rx="1"/><rect x="271.8" y="93.7" width="2.8" height="2.8" rx="1"/><rect x="270.1" y="157.8" width="2.8" height="2.8" rx="1"/><rect x="310.0" y="147.7" width="2.8" height="2.8" rx="1"/><rect x="293.5" y="170.2" width="2.8" height="2.8" rx="1"/><rect x="287.4" y="130.4" width="2.8" height="2.8" rx="1"/><rect x="280.2" y="127.5" width="2.8" height="2.8" rx="1"/><rect x="276.4" y="156.6" width="2.8" height="2.8" rx="1"/><rect x="244.3" y="119.1" width="2.8" height="2.8" rx="1"/><rect x="261.8" y="122.6" width="2.8" height="2.8" rx="1"/><rect x="283.5" y="129.3" width="2.8" height="2.8" rx="1"/><rect x="269.6" y="132.7" width="2.8" height="2.8" rx="1"/><rect x="278.5" y="110.0" width="2.8" height="2.8" rx="1"/><rect x="287.6" y="137.1" width="2.8" height="2.8" rx="1"/><rect x="286.0" y="106.4" width="2.8" height="2.8" rx="1"/><rect x="273.4" y="110.4" width="2.8" height="2.8" rx="1"/><rect x="289.7" y="146.7" width="2.8" height="2.8" rx="1"/><rect x="276.8" y="149.4" width="2.8" height="2.8" rx="1"/><rect x="292.2" y="140.2" width="2.8" height="2.8" rx="1"/><rect x="259.3" y="94.4" width="2.8" height="2.8" rx="1"/><rect x="275.2" y="99.8" width="2.8" height="2.8" rx="1"/><rect x="264.3" y="116.6" width="2.8" height="2.8" rx="1"/><rect x="276.5" y="133.5" width="2.8" height="2.8" rx="1"/><rect x="274.1" y="135.2" width="2.8" height="2.8" rx="1"/><rect x="285.4" y="136.6" width="2.8" height="2.8" rx="1"/><rect x="252.1" y="154.8" width="2.8" height="2.8" rx="1"/><rect x="292.7" y="144.1" width="2.8" height="2.8" rx="1"/><rect x="250.9" y="96.6" width="2.8" height="2.8" rx="1"/><rect x="292.7" y="123.4" width="2.8" height="2.8" rx="1"/><rect x="275.0" y="94.3" width="2.8" height="2.8" rx="1"/><rect x="296.5" y="101.1" width="2.8" height="2.8" rx="1"/><rect x="280.1" y="117.3" width="2.8" height="2.8" rx="1"/><rect x="259.6" y="130.4" width="2.8" height="2.8" rx="1"/><rect x="300.2" y="135.0" width="2.8" height="2.8" rx="1"/><rect x="306.1" y="142.5" width="2.8" height="2.8" rx="1"/><rect x="251.3" y="132.2" width="2.8" height="2.8" rx="1"/><rect x="259.8" y="121.8" width="2.8" height="2.8" rx="1"/><rect x="269.5" y="107.5" width="2.8" height="2.8" rx="1"/><rect x="277.8" y="133.6" width="2.8" height="2.8" rx="1"/><rect x="276.7" y="130.0" width="2.8" height="2.8" rx="1"/><rect x="286.0" y="122.3" width="2.8" height="2.8" rx="1"/><rect x="282.9" y="147.6" width="2.8" height="2.8" rx="1"/><rect x="267.7" y="88.7" width="2.8" height="2.8" rx="1"/><rect x="288.0" y="117.5" width="2.8" height="2.8" rx="1"/><rect x="248.8" y="102.8" width="2.8" height="2.8" rx="1"/><rect x="262.1" y="139.7" width="2.8" height="2.8" rx="1"/><rect x="275.2" y="111.0" width="2.8" height="2.8" rx="1"/><rect x="306.6" y="128.3" width="2.8" height="2.8" rx="1"/><rect x="249.7" y="125.2" width="2.8" height="2.8" rx="1"/><rect x="292.3" y="125.5" width="2.8" height="2.8" rx="1"/><rect x="265.9" y="141.1" width="2.8" height="2.8" rx="1"/><rect x="294.6" y="131.0" width="2.8" height="2.8" rx="1"/><rect x="278.9" y="139.2" width="2.8" height="2.8" rx="1"/><rect x="287.7" y="123.4" width="2.8" height="2.8" rx="1"/><rect x="249.8" y="134.1" width="2.8" height="2.8" rx="1"/><rect x="285.0" y="126.7" width="2.8" height="2.8" rx="1"/><rect x="284.5" y="117.9" width="2.8" height="2.8" rx="1"/><rect x="266.4" y="117.3" width="2.8" height="2.8" rx="1"/><rect x="276.8" y="115.7" width="2.8" height="2.8" rx="1"/><rect x="296.2" y="153.7" width="2.8" height="2.8" rx="1"/><rect x="320.1" y="144.4" width="2.8" height="2.8" rx="1"/><rect x="292.7" y="133.1" width="2.8" height="2.8" rx="1"/><rect x="299.5" y="155.8" width="2.8" height="2.8" rx="1"/><rect x="263.8" y="134.0" width="2.8" height="2.8" rx="1"/><rect x="295.5" y="121.0" width="2.8" height="2.8" rx="1"/><rect x="287.4" y="130.5" width="2.8" height="2.8" rx="1"/><rect x="274.4" y="121.1" width="2.8" height="2.8" rx="1"/><rect x="265.2" y="93.5" width="2.8" height="2.8" rx="1"/><rect x="259.1" y="129.6" width="2.8" height="2.8" rx="1"/><rect x="256.9" y="121.6" width="2.8" height="2.8" rx="1"/><rect x="298.2" y="129.7" width="2.8" height="2.8" rx="1"/><rect x="265.0" y="95.7" width="2.8" height="2.8" rx="1"/><rect x="282.9" y="145.4" width="2.8" height="2.8" rx="1"/><rect x="247.0" y="109.1" width="2.8" height="2.8" rx="1"/><rect x="269.8" y="112.6" width="2.8" height="2.8" rx="1"/><rect x="250.9" y="139.0" width="2.8" height="2.8" rx="1"/><rect x="264.2" y="143.9" width="2.8" height="2.8" rx="1"/><rect x="277.1" y="151.5" width="2.8" height="2.8" rx="1"/><rect x="257.4" y="122.8" width="2.8" height="2.8" rx="1"/><rect x="280.4" y="105.2" width="2.8" height="2.8" rx="1"/><rect x="293.8" y="133.9" width="2.8" height="2.8" rx="1"/><rect x="265.3" y="145.4" width="2.8" height="2.8" rx="1"/><rect x="262.8" y="122.7" width="2.8" height="2.8" rx="1"/><rect x="266.5" y="105.6" width="2.8" height="2.8" rx="1"/><rect x="258.1" y="120.7" width="2.8" height="2.8" rx="1"/><rect x="240.7" y="128.4" width="2.8" height="2.8" rx="1"/><rect x="297.1" y="123.0" width="2.8" height="2.8" rx="1"/><rect x="268.7" y="137.8" width="2.8" height="2.8" rx="1"/><rect x="238.3" y="81.2" width="2.8" height="2.8" rx="1"/><rect x="296.1" y="142.5" width="2.8" height="2.8" rx="1"/><rect x="303.3" y="127.0" width="2.8" height="2.8" rx="1"/><rect x="287.6" y="148.0" width="2.8" height="2.8" rx="1"/><rect x="298.3" y="135.5" width="2.8" height="2.8" rx="1"/><rect x="249.6" y="105.2" width="2.8" height="2.8" rx="1"/><rect x="254.1" y="104.2" width="2.8" height="2.8" rx="1"/><rect x="273.7" y="145.0" width="2.8" height="2.8" rx="1"/><rect x="258.6" y="81.1" width="2.8" height="2.8" rx="1"/><rect x="295.3" y="118.3" width="2.8" height="2.8" rx="1"/><rect x="266.8" y="95.0" width="2.8" height="2.8" rx="1"/><rect x="325.0" y="140.3" width="2.8" height="2.8" rx="1"/><rect x="275.2" y="120.1" width="2.8" height="2.8" rx="1"/><rect x="283.1" y="114.2" width="2.8" height="2.8" rx="1"/><rect x="291.5" y="141.6" width="2.8" height="2.8" rx="1"/><rect x="263.2" y="97.4" width="2.8" height="2.8" rx="1"/><rect x="275.0" y="112.6" width="2.8" height="2.8" rx="1"/><rect x="295.1" y="115.0" width="2.8" height="2.8" rx="1"/><rect x="287.7" y="148.2" width="2.8" height="2.8" rx="1"/><rect x="297.7" y="115.1" width="2.8" height="2.8" rx="1"/><rect x="272.1" y="113.3" width="2.8" height="2.8" rx="1"/><rect x="305.0" y="133.2" width="2.8" height="2.8" rx="1"/><rect x="270.4" y="146.4" width="2.8" height="2.8" rx="1"/><rect x="259.9" y="103.5" width="2.8" height="2.8" rx="1"/><rect x="305.9" y="108.4" width="2.8" height="2.8" rx="1"/><rect x="274.2" y="101.6" width="2.8" height="2.8" rx="1"/><rect x="270.6" y="153.7" width="2.8" height="2.8" rx="1"/><rect x="265.5" y="111.3" width="2.8" height="2.8" rx="1"/><rect x="267.1" y="119.5" width="2.8" height="2.8" rx="1"/><rect x="274.6" y="140.9" width="2.8" height="2.8" rx="1"/><rect x="276.2" y="139.2" width="2.8" height="2.8" rx="1"/><rect x="273.0" y="112.2" width="2.8" height="2.8" rx="1"/><rect x="270.2" y="114.1" width="2.8" height="2.8" rx="1"/><rect x="299.0" y="151.1" width="2.8" height="2.8" rx="1"/><rect x="280.7" y="116.8" width="2.8" height="2.8" rx="1"/><rect x="280.9" y="110.0" width="2.8" height="2.8" rx="1"/><rect x="263.1" y="99.7" width="2.8" height="2.8" rx="1"/><rect x="260.6" y="125.2" width="2.8" height="2.8" rx="1"/><rect x="293.0" y="162.0" width="2.8" height="2.8" rx="1"/><rect x="307.4" y="147.8" width="2.8" height="2.8" rx="1"/><rect x="287.2" y="158.1" width="2.8" height="2.8" rx="1"/><rect x="307.0" y="131.5" width="2.8" height="2.8" rx="1"/><rect x="272.7" y="125.3" width="2.8" height="2.8" rx="1"/><rect x="312.8" y="163.4" width="2.8" height="2.8" rx="1"/><rect x="263.5" y="125.0" width="2.8" height="2.8" rx="1"/><rect x="285.3" y="129.9" width="2.8" height="2.8" rx="1"/><rect x="294.9" y="112.8" width="2.8" height="2.8" rx="1"/><rect x="275.5" y="116.3" width="2.8" height="2.8" rx="1"/><rect x="287.0" y="158.5" width="2.8" height="2.8" rx="1"/><rect x="308.3" y="125.4" width="2.8" height="2.8" rx="1"/><rect x="245.5" y="114.5" width="2.8" height="2.8" rx="1"/><rect x="242.8" y="126.5" width="2.8" height="2.8" rx="1"/><rect x="264.3" y="150.4" width="2.8" height="2.8" rx="1"/><rect x="296.9" y="120.4" width="2.8" height="2.8" rx="1"/><rect x="249.3" y="103.1" width="2.8" height="2.8" rx="1"/><rect x="255.5" y="88.1" width="2.8" height="2.8" rx="1"/><rect x="262.5" y="116.6" width="2.8" height="2.8" rx="1"/><rect x="281.7" y="121.7" width="2.8" height="2.8" rx="1"/><rect x="270.8" y="120.2" width="2.8" height="2.8" rx="1"/><rect x="268.9" y="116.1" width="2.8" height="2.8" rx="1"/><rect x="259.4" y="106.6" width="2.8" height="2.8" rx="1"/><rect x="243.1" y="99.7" width="2.8" height="2.8" rx="1"/><rect x="304.1" y="155.7" width="2.8" height="2.8" rx="1"/><rect x="260.0" y="103.5" width="2.8" height="2.8" rx="1"/><rect x="245.7" y="125.7" width="2.8" height="2.8" rx="1"/><rect x="272.2" y="107.3" width="2.8" height="2.8" rx="1"/><rect x="280.3" y="132.9" width="2.8" height="2.8" rx="1"/><rect x="251.9" y="121.2" width="2.8" height="2.8" rx="1"/><rect x="297.5" y="145.1" width="2.8" height="2.8" rx="1"/><rect x="241.5" y="130.3" width="2.8" height="2.8" rx="1"/><rect x="279.8" y="81.1" width="2.8" height="2.8" rx="1"/><rect x="258.4" y="108.3" width="2.8" height="2.8" rx="1"/><rect x="277.2" y="130.7" width="2.8" height="2.8" rx="1"/><rect x="258.4" y="134.2" width="2.8" height="2.8" rx="1"/><rect x="276.8" y="93.5" width="2.8" height="2.8" rx="1"/><rect x="272.9" y="106.0" width="2.8" height="2.8" rx="1"/><rect x="248.6" y="101.5" width="2.8" height="2.8" rx="1"/><rect x="289.4" y="120.4" width="2.8" height="2.8" rx="1"/><rect x="265.2" y="102.5" width="2.8" height="2.8" rx="1"/><rect x="274.1" y="138.9" width="2.8" height="2.8" rx="1"/><rect x="273.9" y="141.8" width="2.8" height="2.8" rx="1"/><rect x="264.0" y="113.4" width="2.8" height="2.8" rx="1"/><rect x="235.5" y="83.7" width="2.8" height="2.8" rx="1"/><rect x="247.1" y="123.6" width="2.8" height="2.8" rx="1"/><rect x="276.9" y="112.1" width="2.8" height="2.8" rx="1"/><rect x="282.1" y="107.7" width="2.8" height="2.8" rx="1"/><rect x="246.3" y="119.6" width="2.8" height="2.8" rx="1"/><rect x="301.9" y="146.9" width="2.8" height="2.8" rx="1"/><rect x="281.3" y="148.6" width="2.8" height="2.8" rx="1"/><rect x="289.8" y="136.3" width="2.8" height="2.8" rx="1"/><rect x="285.3" y="136.0" width="2.8" height="2.8" rx="1"/><rect x="286.8" y="151.1" width="2.8" height="2.8" rx="1"/><rect x="247.5" y="124.3" width="2.8" height="2.8" rx="1"/><rect x="285.3" y="151.2" width="2.8" height="2.8" rx="1"/><rect x="251.5" y="118.0" width="2.8" height="2.8" rx="1"/><rect x="257.0" y="130.6" width="2.8" height="2.8" rx="1"/><rect x="265.4" y="127.1" width="2.8" height="2.8" rx="1"/><rect x="258.4" y="126.0" width="2.8" height="2.8" rx="1"/><rect x="271.7" y="130.8" width="2.8" height="2.8" rx="1"/><rect x="279.7" y="125.4" width="2.8" height="2.8" rx="1"/><rect x="259.4" y="151.7" width="2.8" height="2.8" rx="1"/><rect x="260.2" y="124.8" width="2.8" height="2.8" rx="1"/><rect x="271.6" y="152.9" width="2.8" height="2.8" rx="1"/><rect x="262.5" y="117.3" width="2.8" height="2.8" rx="1"/><rect x="280.4" y="111.3" width="2.8" height="2.8" rx="1"/><rect x="278.6" y="109.9" width="2.8" height="2.8" rx="1"/><rect x="237.0" y="119.4" width="2.8" height="2.8" rx="1"/><rect x="297.5" y="141.3" width="2.8" height="2.8" rx="1"/><rect x="283.9" y="132.5" width="2.8" height="2.8" rx="1"/><rect x="270.9" y="144.9" width="2.8" height="2.8" rx="1"/><rect x="284.2" y="146.0" width="2.8" height="2.8" rx="1"/><rect x="290.7" y="140.8" width="2.8" height="2.8" rx="1"/><rect x="234.8" y="106.4" width="2.8" height="2.8" rx="1"/><rect x="290.6" y="145.1" width="2.8" height="2.8" rx="1"/><rect x="272.3" y="117.4" width="2.8" height="2.8" rx="1"/><rect x="264.3" y="124.2" width="2.8" height="2.8" rx="1"/><rect x="278.7" y="130.7" width="2.8" height="2.8" rx="1"/><rect x="309.3" y="168.0" width="2.8" height="2.8" rx="1"/><rect x="347.0" y="148.8" width="2.8" height="2.8" rx="1"/><rect x="330.9" y="156.7" width="2.8" height="2.8" rx="1"/><rect x="279.2" y="131.5" width="2.8" height="2.8" rx="1"/><rect x="258.4" y="138.6" width="2.8" height="2.8" rx="1"/><rect x="261.6" y="139.1" width="2.8" height="2.8" rx="1"/><rect x="320.3" y="163.2" width="2.8" height="2.8" rx="1"/><rect x="231.6" y="150.0" width="2.8" height="2.8" rx="1"/><rect x="265.7" y="135.8" width="2.8" height="2.8" rx="1"/><rect x="230.1" y="121.3" width="2.8" height="2.8" rx="1"/><rect x="232.1" y="64.5" width="2.8" height="2.8" rx="1"/><rect x="315.6" y="87.3" width="2.8" height="2.8" rx="1"/><rect x="270.7" y="132.0" width="2.8" height="2.8" rx="1"/><rect x="309.1" y="164.7" width="2.8" height="2.8" rx="1"/><rect x="271.5" y="140.6" width="2.8" height="2.8" rx="1"/><rect x="285.2" y="91.1" width="2.8" height="2.8" rx="1"/><rect x="325.5" y="128.1" width="2.8" height="2.8" rx="1"/><rect x="266.4" y="121.1" width="2.8" height="2.8" rx="1"/><rect x="270.0" y="92.7" width="2.8" height="2.8" rx="1"/><rect x="251.5" y="86.2" width="2.8" height="2.8" rx="1"/><rect x="322.6" y="135.4" width="2.8" height="2.8" rx="1"/><rect x="270.7" y="89.2" width="2.8" height="2.8" rx="1"/><rect x="244.9" y="124.6" width="2.8" height="2.8" rx="1"/><rect x="263.1" y="78.5" width="2.8" height="2.8" rx="1"/><rect x="301.6" y="181.6" width="2.8" height="2.8" rx="1"/><rect x="250.9" y="116.7" width="2.8" height="2.8" rx="1"/><rect x="348.0" y="177.5" width="2.8" height="2.8" rx="1"/><rect x="231.5" y="145.6" width="2.8" height="2.8" rx="1"/><rect x="278.4" y="94.4" width="2.8" height="2.8" rx="1"/><rect x="312.1" y="181.8" width="2.8" height="2.8" rx="1"/><rect x="249.6" y="121.2" width="2.8" height="2.8" rx="1"/><rect x="246.1" y="68.3" width="2.8" height="2.8" rx="1"/><rect x="266.9" y="86.0" width="2.8" height="2.8" rx="1"/><rect x="213.6" y="107.8" width="2.8" height="2.8" rx="1"/><rect x="267.7" y="150.0" width="2.8" height="2.8" rx="1"/><rect x="291.9" y="150.0" width="2.8" height="2.8" rx="1"/><rect x="257.5" y="90.8" width="2.8" height="2.8" rx="1"/><rect x="261.1" y="182.5" width="2.8" height="2.8" rx="1"/><rect x="323.9" y="168.5" width="2.8" height="2.8" rx="1"/><rect x="260.1" y="179.6" width="2.8" height="2.8" rx="1"/><rect x="251.6" y="117.9" width="2.8" height="2.8" rx="1"/><rect x="274.0" y="181.1" width="2.8" height="2.8" rx="1"/><rect x="219.7" y="140.8" width="2.8" height="2.8" rx="1"/><rect x="274.2" y="118.8" width="2.8" height="2.8" rx="1"/><rect x="225.5" y="97.4" width="2.8" height="2.8" rx="1"/><rect x="312.1" y="117.8" width="2.8" height="2.8" rx="1"/><rect x="284.0" y="152.1" width="2.8" height="2.8" rx="1"/><rect x="231.3" y="115.8" width="2.8" height="2.8" rx="1"/><rect x="261.2" y="111.3" width="2.8" height="2.8" rx="1"/><rect x="300.7" y="102.4" width="2.8" height="2.8" rx="1"/><rect x="262.5" y="154.9" width="2.8" height="2.8" rx="1"/><rect x="325.1" y="154.1" width="2.8" height="2.8" rx="1"/><rect x="264.1" y="144.6" width="2.8" height="2.8" rx="1"/><rect x="214.1" y="99.7" width="2.8" height="2.8" rx="1"/><rect x="281.3" y="166.4" width="2.8" height="2.8" rx="1"/><rect x="247.0" y="94.0" width="2.8" height="2.8" rx="1"/><rect x="289.6" y="126.8" width="2.8" height="2.8" rx="1"/><rect x="312.5" y="124.3" width="2.8" height="2.8" rx="1"/><rect x="271.1" y="93.5" width="2.8" height="2.8" rx="1"/><rect x="263.0" y="94.4" width="2.8" height="2.8" rx="1"/><rect x="282.1" y="131.0" width="2.8" height="2.8" rx="1"/><rect x="295.7" y="155.1" width="2.8" height="2.8" rx="1"/><rect x="314.0" y="144.4" width="2.8" height="2.8" rx="1"/><rect x="267.5" y="143.0" width="2.8" height="2.8" rx="1"/><rect x="247.9" y="119.9" width="2.8" height="2.8" rx="1"/><rect x="268.9" y="125.7" width="2.8" height="2.8" rx="1"/><rect x="352.7" y="195.4" width="2.8" height="2.8" rx="1"/><rect x="277.0" y="163.7" width="2.8" height="2.8" rx="1"/><rect x="252.3" y="117.7" width="2.8" height="2.8" rx="1"/><rect x="260.9" y="152.0" width="2.8" height="2.8" rx="1"/><rect x="301.3" y="180.2" width="2.8" height="2.8" rx="1"/><rect x="259.4" y="195.2" width="2.8" height="2.8" rx="1"/><rect x="278.4" y="125.8" width="2.8" height="2.8" rx="1"/><rect x="288.3" y="125.6" width="2.8" height="2.8" rx="1"/><rect x="283.0" y="134.9" width="2.8" height="2.8" rx="1"/><rect x="218.7" y="94.2" width="2.8" height="2.8" rx="1"/><rect x="230.9" y="61.2" width="2.8" height="2.8" rx="1"/><rect x="277.6" y="141.3" width="2.8" height="2.8" rx="1"/><rect x="245.4" y="119.1" width="2.8" height="2.8" rx="1"/><rect x="345.0" y="149.1" width="2.8" height="2.8" rx="1"/><rect x="294.1" y="108.2" width="2.8" height="2.8" rx="1"/><rect x="205.2" y="121.5" width="2.8" height="2.8" rx="1"/><rect x="248.2" y="132.3" width="2.8" height="2.8" rx="1"/><rect x="264.3" y="113.3" width="2.8" height="2.8" rx="1"/><rect x="331.9" y="217.4" width="2.8" height="2.8" rx="1"/><rect x="279.7" y="127.3" width="2.8" height="2.8" rx="1"/><rect x="288.7" y="114.6" width="2.8" height="2.8" rx="1"/><rect x="293.6" y="195.2" width="2.8" height="2.8" rx="1"/><rect x="273.2" y="138.8" width="2.8" height="2.8" rx="1"/><rect x="256.4" y="164.1" width="2.8" height="2.8" rx="1"/><rect x="195.0" y="123.4" width="2.8" height="2.8" rx="1"/><rect x="289.1" y="140.6" width="2.8" height="2.8" rx="1"/><rect x="235.9" y="170.4" width="2.8" height="2.8" rx="1"/><rect x="252.7" y="133.2" width="2.8" height="2.8" rx="1"/><rect x="226.3" y="109.5" width="2.8" height="2.8" rx="1"/><rect x="298.9" y="139.3" width="2.8" height="2.8" rx="1"/><rect x="282.0" y="121.6" width="2.8" height="2.8" rx="1"/><rect x="261.3" y="114.1" width="2.8" height="2.8" rx="1"/><rect x="284.1" y="122.5" width="2.8" height="2.8" rx="1"/><rect x="269.9" y="131.0" width="2.8" height="2.8" rx="1"/><rect x="260.0" y="137.4" width="2.8" height="2.8" rx="1"/><rect x="333.5" y="178.5" width="2.8" height="2.8" rx="1"/><rect x="322.1" y="104.4" width="2.8" height="2.8" rx="1"/><rect x="279.9" y="190.9" width="2.8" height="2.8" rx="1"/><rect x="303.8" y="134.5" width="2.8" height="2.8" rx="1"/><rect x="339.0" y="156.8" width="2.8" height="2.8" rx="1"/><rect x="271.8" y="168.8" width="2.8" height="2.8" rx="1"/><rect x="258.5" y="104.2" width="2.8" height="2.8" rx="1"/><rect x="268.3" y="159.6" width="2.8" height="2.8" rx="1"/><rect x="258.4" y="127.2" width="2.8" height="2.8" rx="1"/><rect x="280.9" y="126.6" width="2.8" height="2.8" rx="1"/><rect x="246.6" y="143.1" width="2.8" height="2.8" rx="1"/><rect x="329.0" y="136.1" width="2.8" height="2.8" rx="1"/><rect x="288.6" y="111.3" width="2.8" height="2.8" rx="1"/><rect x="295.1" y="131.0" width="2.8" height="2.8" rx="1"/><rect x="272.1" y="154.9" width="2.8" height="2.8" rx="1"/><rect x="303.9" y="128.7" width="2.8" height="2.8" rx="1"/><rect x="286.4" y="76.2" width="2.8" height="2.8" rx="1"/><rect x="352.2" y="153.8" width="2.8" height="2.8" rx="1"/><rect x="331.8" y="168.7" width="2.8" height="2.8" rx="1"/><rect x="256.1" y="131.6" width="2.8" height="2.8" rx="1"/><rect x="257.3" y="108.1" width="2.8" height="2.8" rx="1"/><rect x="284.4" y="118.8" width="2.8" height="2.8" rx="1"/><rect x="266.5" y="42.3" width="2.8" height="2.8" rx="1"/><rect x="325.4" y="188.3" width="2.8" height="2.8" rx="1"/><rect x="297.3" y="139.8" width="2.8" height="2.8" rx="1"/><rect x="276.6" y="140.7" width="2.8" height="2.8" rx="1"/><rect x="257.3" y="140.6" width="2.8" height="2.8" rx="1"/><rect x="277.6" y="135.3" width="2.8" height="2.8" rx="1"/><rect x="266.9" y="152.3" width="2.8" height="2.8" rx="1"/><rect x="275.6" y="130.7" width="2.8" height="2.8" rx="1"/><rect x="269.9" y="162.8" width="2.8" height="2.8" rx="1"/><rect x="299.9" y="125.2" width="2.8" height="2.8" rx="1"/><rect x="281.4" y="151.4" width="2.8" height="2.8" rx="1"/><rect x="258.7" y="121.9" width="2.8" height="2.8" rx="1"/><rect x="316.6" y="123.8" width="2.8" height="2.8" rx="1"/><rect x="259.5" y="136.8" width="2.8" height="2.8" rx="1"/><rect x="285.9" y="136.6" width="2.8" height="2.8" rx="1"/><rect x="240.8" y="119.4" width="2.8" height="2.8" rx="1"/><rect x="305.8" y="156.3" width="2.8" height="2.8" rx="1"/><rect x="292.7" y="155.3" width="2.8" height="2.8" rx="1"/><rect x="302.1" y="167.3" width="2.8" height="2.8" rx="1"/><rect x="305.9" y="158.9" width="2.8" height="2.8" rx="1"/><rect x="299.3" y="162.5" width="2.8" height="2.8" rx="1"/><rect x="302.2" y="160.3" width="2.8" height="2.8" rx="1"/><rect x="302.6" y="164.8" width="2.8" height="2.8" rx="1"/><rect x="303.9" y="173.0" width="2.8" height="2.8" rx="1"/><rect x="302.8" y="158.3" width="2.8" height="2.8" rx="1"/><rect x="307.3" y="168.1" width="2.8" height="2.8" rx="1"/><rect x="304.9" y="165.2" width="2.8" height="2.8" rx="1"/><rect x="315.0" y="157.9" width="2.8" height="2.8" rx="1"/><rect x="303.2" y="155.2" width="2.8" height="2.8" rx="1"/><rect x="302.0" y="149.7" width="2.8" height="2.8" rx="1"/><rect x="311.3" y="167.4" width="2.8" height="2.8" rx="1"/><rect x="298.6" y="150.5" width="2.8" height="2.8" rx="1"/><rect x="315.0" y="163.1" width="2.8" height="2.8" rx="1"/><rect x="301.7" y="171.7" width="2.8" height="2.8" rx="1"/><rect x="305.3" y="149.7" width="2.8" height="2.8" rx="1"/><rect x="300.9" y="147.1" width="2.8" height="2.8" rx="1"/><rect x="318.1" y="169.1" width="2.8" height="2.8" rx="1"/><rect x="309.3" y="168.2" width="2.8" height="2.8" rx="1"/><rect x="296.1" y="151.7" width="2.8" height="2.8" rx="1"/><rect x="302.5" y="158.3" width="2.8" height="2.8" rx="1"/><rect x="307.5" y="164.6" width="2.8" height="2.8" rx="1"/><rect x="306.6" y="159.2" width="2.8" height="2.8" rx="1"/><rect x="310.9" y="152.6" width="2.8" height="2.8" rx="1"/><rect x="306.8" y="162.1" width="2.8" height="2.8" rx="1"/><rect x="300.2" y="160.4" width="2.8" height="2.8" rx="1"/><rect x="312.5" y="167.8" width="2.8" height="2.8" rx="1"/><rect x="295.2" y="154.4" width="2.8" height="2.8" rx="1"/><rect x="301.3" y="160.2" width="2.8" height="2.8" rx="1"/><rect x="305.9" y="171.0" width="2.8" height="2.8" rx="1"/><rect x="307.4" y="162.2" width="2.8" height="2.8" rx="1"/><rect x="297.0" y="151.5" width="2.8" height="2.8" rx="1"/><rect x="305.2" y="157.0" width="2.8" height="2.8" rx="1"/><rect x="302.3" y="155.4" width="2.8" height="2.8" rx="1"/><rect x="289.7" y="152.5" width="2.8" height="2.8" rx="1"/><rect x="312.6" y="160.8" width="2.8" height="2.8" rx="1"/><rect x="301.5" y="161.6" width="2.8" height="2.8" rx="1"/><rect x="302.3" y="174.4" width="2.8" height="2.8" rx="1"/><rect x="301.6" y="151.7" width="2.8" height="2.8" rx="1"/><rect x="303.8" y="167.6" width="2.8" height="2.8" rx="1"/><rect x="298.1" y="141.6" width="2.8" height="2.8" rx="1"/><rect x="301.3" y="163.8" width="2.8" height="2.8" rx="1"/><rect x="307.7" y="156.5" width="2.8" height="2.8" rx="1"/><rect x="292.6" y="138.2" width="2.8" height="2.8" rx="1"/><rect x="300.3" y="172.1" width="2.8" height="2.8" rx="1"/><rect x="301.6" y="171.2" width="2.8" height="2.8" rx="1"/><rect x="312.2" y="165.6" width="2.8" height="2.8" rx="1"/><rect x="315.0" y="176.7" width="2.8" height="2.8" rx="1"/><rect x="307.9" y="155.6" width="2.8" height="2.8" rx="1"/><rect x="297.3" y="157.9" width="2.8" height="2.8" rx="1"/><rect x="301.3" y="157.3" width="2.8" height="2.8" rx="1"/><rect x="299.2" y="150.5" width="2.8" height="2.8" rx="1"/><rect x="307.4" y="162.8" width="2.8" height="2.8" rx="1"/><rect x="312.8" y="172.0" width="2.8" height="2.8" rx="1"/><rect x="309.6" y="170.2" width="2.8" height="2.8" rx="1"/><rect x="300.9" y="171.7" width="2.8" height="2.8" rx="1"/><rect x="304.4" y="161.5" width="2.8" height="2.8" rx="1"/><rect x="243.1" y="97.5" width="2.8" height="2.8" rx="1"/><rect x="243.4" y="99.0" width="2.8" height="2.8" rx="1"/><rect x="233.0" y="86.2" width="2.8" height="2.8" rx="1"/><rect x="243.2" y="96.7" width="2.8" height="2.8" rx="1"/><rect x="242.2" y="91.4" width="2.8" height="2.8" rx="1"/><rect x="252.7" y="104.2" width="2.8" height="2.8" rx="1"/><rect x="253.3" y="87.8" width="2.8" height="2.8" rx="1"/><rect x="259.9" y="99.7" width="2.8" height="2.8" rx="1"/><rect x="254.5" y="107.1" width="2.8" height="2.8" rx="1"/><rect x="254.2" y="91.4" width="2.8" height="2.8" rx="1"/><rect x="245.3" y="94.7" width="2.8" height="2.8" rx="1"/><rect x="253.4" y="98.4" width="2.8" height="2.8" rx="1"/><rect x="252.6" y="91.1" width="2.8" height="2.8" rx="1"/><rect x="251.9" y="93.0" width="2.8" height="2.8" rx="1"/><rect x="259.1" y="101.6" width="2.8" height="2.8" rx="1"/><rect x="247.7" y="108.4" width="2.8" height="2.8" rx="1"/><rect x="238.2" y="92.1" width="2.8" height="2.8" rx="1"/><rect x="259.8" y="93.5" width="2.8" height="2.8" rx="1"/><rect x="243.5" y="88.1" width="2.8" height="2.8" rx="1"/><rect x="240.3" y="95.7" width="2.8" height="2.8" rx="1"/><rect x="251.1" y="92.5" width="2.8" height="2.8" rx="1"/><rect x="256.6" y="93.3" width="2.8" height="2.8" rx="1"/><rect x="247.9" y="86.8" width="2.8" height="2.8" rx="1"/><rect x="255.2" y="103.6" width="2.8" height="2.8" rx="1"/><rect x="249.2" y="103.7" width="2.8" height="2.8" rx="1"/><rect x="240.6" y="92.5" width="2.8" height="2.8" rx="1"/><rect x="260.3" y="79.2" width="2.8" height="2.8" rx="1"/><rect x="254.8" y="86.4" width="2.8" height="2.8" rx="1"/><rect x="252.1" y="97.6" width="2.8" height="2.8" rx="1"/><rect x="249.7" y="106.6" width="2.8" height="2.8" rx="1"/><rect x="256.7" y="102.0" width="2.8" height="2.8" rx="1"/><rect x="243.2" y="84.7" width="2.8" height="2.8" rx="1"/><rect x="254.9" y="99.2" width="2.8" height="2.8" rx="1"/><rect x="256.6" y="110.3" width="2.8" height="2.8" rx="1"/><rect x="256.2" y="97.5" width="2.8" height="2.8" rx="1"/><rect x="250.0" y="85.9" width="2.8" height="2.8" rx="1"/><rect x="233.8" y="94.6" width="2.8" height="2.8" rx="1"/><rect x="246.8" y="106.6" width="2.8" height="2.8" rx="1"/><rect x="240.1" y="105.1" width="2.8" height="2.8" rx="1"/><rect x="243.8" y="103.8" width="2.8" height="2.8" rx="1"/><rect x="243.4" y="107.6" width="2.8" height="2.8" rx="1"/><rect x="250.6" y="102.1" width="2.8" height="2.8" rx="1"/><rect x="249.3" y="98.5" width="2.8" height="2.8" rx="1"/><rect x="243.2" y="105.2" width="2.8" height="2.8" rx="1"/><rect x="234.0" y="80.6" width="2.8" height="2.8" rx="1"/><rect x="241.3" y="93.8" width="2.8" height="2.8" rx="1"/><rect x="241.6" y="110.4" width="2.8" height="2.8" rx="1"/><rect x="241.5" y="95.7" width="2.8" height="2.8" rx="1"/><rect x="244.6" y="89.1" width="2.8" height="2.8" rx="1"/><rect x="244.2" y="100.9" width="2.8" height="2.8" rx="1"/><rect x="247.5" y="87.2" width="2.8" height="2.8" rx="1"/><rect x="248.3" y="90.5" width="2.8" height="2.8" rx="1"/><rect x="242.2" y="110.1" width="2.8" height="2.8" rx="1"/><rect x="242.7" y="90.6" width="2.8" height="2.8" rx="1"/><rect x="255.3" y="96.2" width="2.8" height="2.8" rx="1"/><rect x="259.4" y="98.0" width="2.8" height="2.8" rx="1"/><rect x="245.9" y="96.3" width="2.8" height="2.8" rx="1"/><rect x="251.7" y="105.0" width="2.8" height="2.8" rx="1"/><rect x="247.4" y="112.7" width="2.8" height="2.8" rx="1"/><rect x="252.3" y="103.0" width="2.8" height="2.8" rx="1"/><rect x="113.6" y="281.1" width="2.8" height="2.8" rx="1"/><rect x="127.7" y="123.5" width="2.8" height="2.8" rx="1"/><rect x="143.5" y="122.3" width="2.8" height="2.8" rx="1"/><rect x="183.2" y="238.4" width="2.8" height="2.8" rx="1"/><rect x="190.2" y="213.0" width="2.8" height="2.8" rx="1"/><rect x="208.7" y="198.5" width="2.8" height="2.8" rx="1"/><rect x="220.2" y="222.1" width="2.8" height="2.8" rx="1"/><rect x="219.3" y="232.1" width="2.8" height="2.8" rx="1"/><rect x="248.4" y="248.4" width="2.8" height="2.8" rx="1"/><rect x="252.8" y="268.4" width="2.8" height="2.8" rx="1"/><rect x="261.6" y="223.0" width="2.8" height="2.8" rx="1"/><rect x="272.1" y="220.3" width="2.8" height="2.8" rx="1"/><rect x="280.1" y="212.1" width="2.8" height="2.8" rx="1"/><rect x="265.1" y="192.2" width="2.8" height="2.8" rx="1"/><rect x="277.4" y="190.3" width="2.8" height="2.8" rx="1"/><rect x="361.1" y="36.1" width="2.8" height="2.8" rx="1"/><rect x="349.7" y="76.0" width="2.8" height="2.8" rx="1"/><rect x="377.9" y="132.3" width="2.8" height="2.8" rx="1"/><rect x="326.8" y="180.4" width="2.8" height="2.8" rx="1"/><rect x="326.8" y="190.3" width="2.8" height="2.8" rx="1"/><rect x="321.5" y="197.6" width="2.8" height="2.8" rx="1"/><rect x="343.5" y="109.6" width="2.8" height="2.8" rx="1"/><rect x="347.9" y="119.6" width="2.8" height="2.8" rx="1"/><rect x="326.8" y="107.8" width="2.8" height="2.8" rx="1"/><rect x="336.5" y="121.4" width="2.8" height="2.8" rx="1"/><rect x="199.9" y="119.6" width="2.8" height="2.8" rx="1"/><rect x="210.5" y="128.6" width="2.8" height="2.8" rx="1"/><rect x="198.1" y="143.2" width="2.8" height="2.8" rx="1"/><rect x="205.2" y="125.0" width="2.8" height="2.8" rx="1"/><rect x="245.7" y="65.1" width="2.8" height="2.8" rx="1"/><rect x="228.1" y="66.0" width="2.8" height="2.8" rx="1"/><rect x="226.3" y="77.8" width="2.8" height="2.8" rx="1"/><rect x="265.1" y="66.9" width="2.8" height="2.8" rx="1"/><rect x="289.8" y="77.8" width="2.8" height="2.8" rx="1"/><rect x="302.1" y="90.5" width="2.8" height="2.8" rx="1"/><rect x="215.8" y="161.3" width="2.8" height="2.8" rx="1"/><rect x="228.1" y="168.6" width="2.8" height="2.8" rx="1"/><rect x="210.5" y="177.6" width="2.8" height="2.8" rx="1"/><rect x="312.7" y="97.8" width="2.8" height="2.8" rx="1"/><rect x="323.2" y="103.2" width="2.8" height="2.8" rx="1"/><rect x="307.4" y="83.3" width="2.8" height="2.8" rx="1"/><rect x="316.2" y="108.7" width="2.8" height="2.8" rx="1"/><rect x="332.0" y="135.9" width="2.8" height="2.8" rx="1"/><rect x="340.9" y="146.8" width="2.8" height="2.8" rx="1"/>
</g>
<path d="M102 126.4H396.5M275.3 22V298.5" stroke="#555" stroke-width="1.1" fill="none"/>
<path d="M134.3 25v-3M134.3 295.5v3 M169.6 25v-3M169.6 295.5v3 M204.8 25v-3M204.8 295.5v3 M240.1 25v-3M240.1 295.5v3 M275.3 25v-3M275.3 295.5v3 M310.5 25v-3M310.5 295.5v3 M345.8 25v-3M345.8 295.5v3 M381.0 25v-3M381.0 295.5v3 M102 271.6h-3M393.5 271.6h3 M102 235.3h-3M393.5 235.3h3 M102 199.0h-3M393.5 199.0h3 M102 162.7h-3M393.5 162.7h3 M102 126.4h-3M393.5 126.4h3 M102 90.1h-3M393.5 90.1h3 M102 53.8h-3M393.5 53.8h3" stroke="#3a3a3a" stroke-width="0.9" fill="none"/>
<rect x="102" y="25" width="291.5" height="270.5" fill="none" stroke="#7a7a7a" stroke-width="1.5" stroke-linejoin="round"/>
<text x="134.3" y="305.3" font-size="5.6" text-anchor="middle" fill="#333" stroke="#333" stroke-width="0.15">-8</text>
<text x="169.6" y="305.3" font-size="5.6" text-anchor="middle" fill="#333" stroke="#333" stroke-width="0.15">-6</text>
<text x="204.8" y="305.3" font-size="5.6" text-anchor="middle" fill="#333" stroke="#333" stroke-width="0.15">-4</text>
<text x="240.1" y="305.3" font-size="5.6" text-anchor="middle" fill="#333" stroke="#333" stroke-width="0.15">-2</text>
<text x="275.3" y="305.3" font-size="5.6" text-anchor="middle" fill="#333" stroke="#333" stroke-width="0.15">0</text>
<text x="310.5" y="305.3" font-size="5.6" text-anchor="middle" fill="#333" stroke="#333" stroke-width="0.15">2</text>
<text x="345.8" y="305.3" font-size="5.6" text-anchor="middle" fill="#333" stroke="#333" stroke-width="0.15">4</text>
<text x="381.0" y="305.3" font-size="5.6" text-anchor="middle" fill="#333" stroke="#333" stroke-width="0.15">6</text>
<text transform="translate(96.6,271.6) rotate(-90)" font-size="5.6" text-anchor="middle" fill="#333" stroke="#333" stroke-width="0.15">-8</text>
<text transform="translate(96.6,235.3) rotate(-90)" font-size="5.6" text-anchor="middle" fill="#333" stroke="#333" stroke-width="0.15">-6</text>
<text transform="translate(96.6,199.0) rotate(-90)" font-size="5.6" text-anchor="middle" fill="#333" stroke="#333" stroke-width="0.15">-4</text>
<text transform="translate(96.6,162.7) rotate(-90)" font-size="5.6" text-anchor="middle" fill="#333" stroke="#333" stroke-width="0.15">-2</text>
<text transform="translate(96.6,126.4) rotate(-90)" font-size="5.6" text-anchor="middle" fill="#333" stroke="#333" stroke-width="0.15">0</text>
<text transform="translate(96.6,90.1) rotate(-90)" font-size="5.6" text-anchor="middle" fill="#333" stroke="#333" stroke-width="0.15">2</text>
<text transform="translate(96.6,53.8) rotate(-90)" font-size="5.6" text-anchor="middle" fill="#333" stroke="#333" stroke-width="0.15">4</text>
<text x="246.7" y="96.9" font-size="7.6" fill="#2a2ad0" stroke="#2a2ad0" stroke-width="0.2">Cdkn2a/Arf</text>
<text x="260" y="107.4" font-size="7.6" fill="#2a2ad0" stroke="#2a2ad0" stroke-width="0.2">Ccnd2</text>
<text x="227" y="115.7" font-size="7.6" fill="#2a2ad0" stroke="#2a2ad0" stroke-width="0.2">Cdkn2b</text>
<text x="272.2" y="115.7" font-size="7.6" fill="#2a2ad0" stroke="#2a2ad0" stroke-width="0.2">Cdk6</text>
<text x="234.7" y="122.4" font-size="7.6" fill="#2a2ad0" stroke="#2a2ad0" stroke-width="0.2">Ccnd1</text>
<text x="275" y="124" font-size="7.6" fill="#2a2ad0" stroke="#2a2ad0" stroke-width="0.2">Ccnd1</text>
<text x="220" y="129" font-size="7.6" fill="#2a2ad0" stroke="#2a2ad0" stroke-width="0.2">Cdkn2a/Ink4a</text>
<text x="263.3" y="135.5" font-size="7.6" fill="#2a2ad0" stroke="#2a2ad0" stroke-width="0.2">Cdk4</text>
<text x="294" y="135.4" font-size="7.6" fill="#2a2ad0" stroke="#2a2ad0" stroke-width="0.2">Cdkn1b</text>
<text x="261.7" y="146" font-size="7.6" fill="#2a2ad0" stroke="#2a2ad0" stroke-width="0.2">Ccnb1</text>
<text x="296.7" y="148.4" font-size="7.6" fill="#2a2ad0" stroke="#2a2ad0" stroke-width="0.2">Cdk2</text>
<g fill="none" stroke="#2a2ad0" stroke-width="0.8">
<rect x="245.8" y="98.3" width="2.8" height="2.8"/>
<rect x="256.1" y="108.1" width="2.8" height="2.8"/>
<rect x="256.9" y="112.3" width="2.8" height="2.8"/>
<rect x="269.1" y="116.6" width="2.8" height="2.8"/>
<rect x="257.3" y="118.1" width="2.8" height="2.8"/>
<rect x="267.8" y="123.1" width="2.8" height="2.8"/>
<rect x="271.1" y="123.6" width="2.8" height="2.8"/>
<rect x="271.1" y="126.3" width="2.8" height="2.8"/>
<rect x="288.6" y="130.3" width="2.8" height="2.8"/>
<rect x="284.6" y="139.6" width="2.8" height="2.8"/>
<rect x="291.9" y="145.3" width="2.8" height="2.8"/>
</g>
</g>
<text x="-0.3" y="332.2" font-size="9.2" font-weight="bold" fill="#111">B</text>
<text transform="translate(48.9,426.7) rotate(-45)" font-size="9" fill="#1c1c1c" stroke="#1c1c1c" stroke-width="0.18"><tspan font-style="italic">Rock1</tspan><tspan font-size="5" dy="-3.4">f/f</tspan><tspan dy="3.4" font-size="9">&#8203;</tspan> control</text>
<text transform="translate(75.6,426.7) rotate(-45)" font-size="9" fill="#1c1c1c" stroke="#1c1c1c" stroke-width="0.18"><tspan font-style="italic">Rock1</tspan><tspan font-size="5" dy="-3.4">Δ/Δ</tspan><tspan dy="3.4" font-size="9">&#8203;</tspan></text>
<text transform="translate(99.6,426.7) rotate(-45)" font-size="9" fill="#1c1c1c" stroke="#1c1c1c" stroke-width="0.18"><tspan font-style="italic">Rock2</tspan><tspan font-size="5" dy="-3.4">f/f</tspan><tspan dy="3.4" font-size="9">&#8203;</tspan> control</text>
<text transform="translate(125.4,426.7) rotate(-45)" font-size="9" fill="#1c1c1c" stroke="#1c1c1c" stroke-width="0.18"><tspan font-style="italic">Rock2</tspan><tspan font-size="5" dy="-3.4">Δ/Δ</tspan><tspan dy="3.4" font-size="9">&#8203;</tspan></text>
<text transform="translate(147.4,426.7) rotate(-45)" font-size="9" fill="#1c1c1c" stroke="#1c1c1c" stroke-width="0.18"><tspan font-style="italic">Rock1</tspan><tspan font-size="5" dy="-3.4">f/f</tspan><tspan dy="3.4" font-size="9">&#8203;</tspan>;<tspan font-style="italic">Rock2</tspan><tspan font-size="5" dy="-3.4">f/f</tspan><tspan dy="3.4" font-size="9">&#8203;</tspan> control</text>
<text transform="translate(173.9,426.7) rotate(-45)" font-size="9" fill="#1c1c1c" stroke="#1c1c1c" stroke-width="0.18"><tspan font-style="italic">Rock1</tspan><tspan font-size="5" dy="-3.4">Δ/Δ</tspan><tspan dy="3.4" font-size="9">&#8203;</tspan>;<tspan font-style="italic">Rock2</tspan><tspan font-size="5" dy="-3.4">Δ/Δ</tspan><tspan dy="3.4" font-size="9">&#8203;</tspan></text>
<rect x="38" y="433" width="148.4" height="18" fill="#b8b8b8"/>
<g filter="url(#b1)" fill="#000">
<rect x="39.3" y="440.8" width="22.1" height="1.4" rx="0.7" opacity="0.35"/>
<rect x="64.0" y="440.8" width="22.1" height="1.4" rx="0.7" opacity="0.15"/>
<rect x="88.8" y="440.8" width="22.1" height="1.4" rx="0.7" opacity="0.45"/>
<rect x="113.5" y="440.8" width="22.1" height="1.4" rx="0.7" opacity="0.3"/>
<rect x="138.2" y="440.8" width="22.1" height="1.4" rx="0.7" opacity="0.4"/>
<rect x="163.0" y="440.8" width="22.1" height="1.4" rx="0.7" opacity="0.15"/>
</g>
<rect x="38" y="433" width="148.4" height="18" fill="url(#gr2)"/>
<rect x="38" y="453.5" width="148.4" height="18.0" fill="#f6f6f6"/>
<g filter="url(#b1)" fill="#000">
<rect x="39.3" y="462.8" width="22.1" height="2.1" rx="1.1" opacity="0.55"/>
<rect x="64.0" y="462.8" width="22.1" height="2.1" rx="1.1" opacity="0.9"/>
<rect x="88.8" y="462.8" width="22.1" height="2.1" rx="1.1" opacity="0.8"/>
<rect x="113.5" y="462.8" width="22.1" height="2.1" rx="1.1" opacity="0.35"/>
<rect x="138.2" y="462.8" width="22.1" height="2.1" rx="1.1" opacity="0.95"/>
<rect x="163.0" y="462.8" width="22.1" height="2.1" rx="1.1" opacity="0.3"/>
</g>
<rect x="38" y="474" width="148.4" height="18" fill="#adadad"/>
<g filter="url(#b1)" fill="#000">
<rect x="39.3" y="483.6" width="22.1" height="1.5" rx="0.8" opacity="0.25"/>
<rect x="64.0" y="483.6" width="22.1" height="1.5" rx="0.8" opacity="0.3"/>
<rect x="88.8" y="483.6" width="22.1" height="1.5" rx="0.8" opacity="0.25"/>
<rect x="113.5" y="483.6" width="22.1" height="1.5" rx="0.8" opacity="0.3"/>
<rect x="138.2" y="483.6" width="22.1" height="1.5" rx="0.8" opacity="0.3"/>
<rect x="163.0" y="483.6" width="22.1" height="1.5" rx="0.8" opacity="0.2"/>
</g>
<rect x="38" y="474" width="148.4" height="18" fill="url(#gr2)"/>
<rect x="38" y="494.5" width="148.4" height="17.0" fill="#ececec"/>
<g filter="url(#b2)" fill="#000">
<rect x="39.0" y="498.7" width="22.7" height="4" rx="1.2" opacity="0.92"/>
<rect x="63.7" y="499.3" width="22.7" height="4" rx="1.2" opacity="0.85"/>
<rect x="88.5" y="499.8" width="22.7" height="4" rx="1.2" opacity="0.8"/>
<rect x="113.2" y="500.4" width="22.7" height="4" rx="1.2" opacity="0.85"/>
<rect x="137.9" y="500.9" width="22.7" height="4" rx="1.2" opacity="0.9"/>
<rect x="162.7" y="501.5" width="22.7" height="4" rx="1.2" opacity="0.92"/>
</g>
<g filter="url(#b1)" fill="#000">
<rect x="39.0" y="505.1" width="22.7" height="1.6" rx="0.8" opacity="0.15"/>
<rect x="63.7" y="505.7" width="22.7" height="1.6" rx="0.8" opacity="0.15"/>
<rect x="88.5" y="506.2" width="22.7" height="1.6" rx="0.8" opacity="0.15"/>
<rect x="113.2" y="506.8" width="22.7" height="1.6" rx="0.8" opacity="0.15"/>
<rect x="137.9" y="507.3" width="22.7" height="1.6" rx="0.8" opacity="0.15"/>
<rect x="162.7" y="507.9" width="22.7" height="1.6" rx="0.8" opacity="0.15"/>
</g>
<rect x="38" y="514.5" width="148.4" height="18.5" fill="#c6c6c6"/>
<g filter="url(#b2)" fill="#000">
<rect x="39.0" y="522.1" width="22.7" height="3.2" rx="1.2" opacity="0.4"/>
<rect x="63.7" y="522.3" width="22.7" height="3.2" rx="1.2" opacity="0.55"/>
<rect x="88.5" y="522.5" width="22.7" height="3.2" rx="1.2" opacity="0.25"/>
<rect x="113.2" y="522.7" width="22.7" height="3.2" rx="1.2" opacity="0.45"/>
<rect x="137.9" y="522.9" width="22.7" height="3.2" rx="1.2" opacity="0.72"/>
<rect x="162.7" y="523.1" width="22.7" height="3.2" rx="1.2" opacity="0.7"/>
</g>
<rect x="38" y="535" width="148.4" height="18.5" fill="#dedede"/>
<g filter="url(#b3)" fill="#000">
<rect x="39.0" y="538.0" width="22.7" height="6" rx="1.2" opacity="0.05"/>
<rect x="63.7" y="538.0" width="22.7" height="6" rx="1.2" opacity="0.06"/>
<rect x="88.5" y="538.0" width="22.7" height="6" rx="1.2" opacity="0.05"/>
<rect x="113.2" y="538.0" width="22.7" height="6" rx="1.2" opacity="0.2"/>
<rect x="137.9" y="538.0" width="22.7" height="6" rx="1.2" opacity="0.25"/>
<rect x="162.7" y="538.0" width="22.7" height="6" rx="1.2" opacity="0.3"/>
</g>
<g filter="url(#b2)" fill="#000">
<rect x="39.0" y="543.9" width="22.7" height="4.4" rx="1.2" opacity="0.15"/>
<rect x="63.7" y="543.7" width="22.7" height="4.4" rx="1.2" opacity="0.2"/>
<rect x="88.5" y="543.4" width="22.7" height="4.4" rx="1.2" opacity="0.15"/>
<rect x="113.2" y="543.2" width="22.7" height="4.4" rx="1.2" opacity="0.62"/>
<rect x="137.9" y="542.9" width="22.7" height="4.4" rx="1.2" opacity="0.72"/>
<rect x="162.7" y="542.7" width="22.7" height="4.4" rx="1.2" opacity="0.82"/>
</g>
<text x="190.7" y="446.2" font-size="8.8" fill="#222" stroke="#222" stroke-width="0.15">ROCK1</text>
<text x="190.7" y="466.5" font-size="8.8" fill="#222" stroke="#222" stroke-width="0.15">ROCK2</text>
<text x="190.7" y="485.5" font-size="8.8" fill="#222" stroke="#222" stroke-width="0.15">pRb Ser608</text>
<text x="190.7" y="505.5" font-size="8.8" fill="#222" stroke="#222" stroke-width="0.15">GAPDH</text>
<text x="190.7" y="524.8" font-size="8.8" fill="#222" stroke="#222" stroke-width="0.15">p16</text>
<text x="190.7" y="545.0" font-size="8.8" fill="#222" stroke="#222" stroke-width="0.15">cyclinD1</text>
<text transform="translate(294.1,406.3) rotate(-45)" font-size="9" fill="#1c1c1c" stroke="#1c1c1c" stroke-width="0.18"><tspan font-style="italic">Rock1</tspan><tspan font-size="5" dy="-3.4">f/f</tspan><tspan dy="3.4" font-size="9">&#8203;</tspan> control</text>
<text transform="translate(320.8,406.3) rotate(-45)" font-size="9" fill="#1c1c1c" stroke="#1c1c1c" stroke-width="0.18"><tspan font-style="italic">Rock1</tspan><tspan font-size="5" dy="-3.4">Δ/Δ</tspan><tspan dy="3.4" font-size="9">&#8203;</tspan></text>
<text transform="translate(345.2,406.3) rotate(-45)" font-size="9" fill="#1c1c1c" stroke="#1c1c1c" stroke-width="0.18"><tspan font-style="italic">Rock2</tspan><tspan font-size="5" dy="-3.4">f/f</tspan><tspan dy="3.4" font-size="9">&#8203;</tspan> control</text>
<text transform="translate(371.2,406.3) rotate(-45)" font-size="9" fill="#1c1c1c" stroke="#1c1c1c" stroke-width="0.18"><tspan font-style="italic">Rock2</tspan><tspan font-size="5" dy="-3.4">Δ/Δ</tspan><tspan dy="3.4" font-size="9">&#8203;</tspan></text>
<text transform="translate(393,406.3) rotate(-45)" font-size="9" fill="#1c1c1c" stroke="#1c1c1c" stroke-width="0.18"><tspan font-style="italic">Rock1</tspan><tspan font-size="5" dy="-3.4">f/f</tspan><tspan dy="3.4" font-size="9">&#8203;</tspan>;<tspan font-style="italic">Rock2</tspan><tspan font-size="5" dy="-3.4">f/f</tspan><tspan dy="3.4" font-size="9">&#8203;</tspan> control</text>
<text transform="translate(419,406.3) rotate(-45)" font-size="9" fill="#1c1c1c" stroke="#1c1c1c" stroke-width="0.18"><tspan font-style="italic">Rock1</tspan><tspan font-size="5" dy="-3.4">Δ/Δ</tspan><tspan dy="3.4" font-size="9">&#8203;</tspan>;<tspan font-style="italic">Rock2</tspan><tspan font-size="5" dy="-3.4">Δ/Δ</tspan><tspan dy="3.4" font-size="9">&#8203;</tspan></text>
<rect x="279" y="415" width="150.5" height="14.5" fill="#a0a0a0"/>
<g filter="url(#b1)" fill="#000">
<rect x="280.3" y="421.8" width="22.5" height="1.6" rx="0.8" opacity="0.65"/>
<rect x="330.5" y="421.8" width="22.5" height="1.6" rx="0.8" opacity="0.65"/>
<rect x="355.6" y="421.8" width="22.5" height="1.6" rx="0.8" opacity="0.6"/>
<rect x="380.6" y="421.8" width="22.5" height="1.6" rx="0.8" opacity="0.65"/>
</g>
<rect x="279" y="415" width="150.5" height="14.5" fill="url(#gr2)"/>
<rect x="279" y="431.5" width="150.5" height="16.0" fill="#f7f7f7"/>
<g filter="url(#b1)" fill="#000">
<rect x="280.3" y="438.4" width="22.5" height="2" rx="1.0" opacity="0.75"/>
<rect x="305.4" y="438.4" width="22.5" height="2" rx="1.0" opacity="0.85"/>
<rect x="330.5" y="438.4" width="22.5" height="2" rx="1.0" opacity="0.9"/>
<rect x="355.6" y="438.4" width="22.5" height="2" rx="1.0" opacity="0.12"/>
<rect x="380.6" y="438.4" width="22.5" height="2" rx="1.0" opacity="0.85"/>
<rect x="405.7" y="438.4" width="22.5" height="2" rx="1.0" opacity="0.3"/>
</g>
<rect x="279" y="450" width="150.5" height="19" fill="#4a4a4a"/>
<g filter="url(#b2)" fill="#707070">
<rect x="280.3" y="457.2" width="22.5" height="2.4" rx="1.2" opacity="0.7"/>
<rect x="305.4" y="457.2" width="22.5" height="2.4" rx="1.2" opacity="0.6"/>
<rect x="330.5" y="457.2" width="22.5" height="2.4" rx="1.2" opacity="0.75"/>
<rect x="355.6" y="457.2" width="22.5" height="2.4" rx="1.2" opacity="0.6"/>
<rect x="380.6" y="457.2" width="22.5" height="2.4" rx="1.2" opacity="0.6"/>
<rect x="405.7" y="457.2" width="22.5" height="2.4" rx="1.2" opacity="0.15"/>
</g>
<g filter="url(#b2)" fill="#1c1c1c">
<rect x="280.3" y="460.7" width="22.5" height="2" rx="1.0" opacity="0.6"/>
<rect x="305.4" y="460.7" width="22.5" height="2" rx="1.0" opacity="0.55"/>
<rect x="330.5" y="460.7" width="22.5" height="2" rx="1.0" opacity="0.65"/>
<rect x="355.6" y="460.7" width="22.5" height="2" rx="1.0" opacity="0.55"/>
<rect x="380.6" y="460.7" width="22.5" height="2" rx="1.0" opacity="0.55"/>
<rect x="405.7" y="460.7" width="22.5" height="2" rx="1.0" opacity="0.3"/>
</g>
<g filter="url(#b3)" fill="#1e1e1e">
<rect x="280.3" y="463.8" width="22.5" height="4.5" rx="1.2" opacity="0.35"/>
<rect x="305.4" y="463.8" width="22.5" height="4.5" rx="1.2" opacity="0.35"/>
<rect x="330.5" y="463.8" width="22.5" height="4.5" rx="1.2" opacity="0.35"/>
<rect x="355.6" y="463.8" width="22.5" height="4.5" rx="1.2" opacity="0.35"/>
<rect x="380.6" y="463.8" width="22.5" height="4.5" rx="1.2" opacity="0.35"/>
<rect x="405.7" y="463.8" width="22.5" height="4.5" rx="1.2" opacity="0.35"/>
</g>
<g filter="url(#b2)" fill="#2a2a2a">
<rect x="280.3" y="451.0" width="22.5" height="3" rx="1.2" opacity="0.2"/>
<rect x="305.4" y="451.0" width="22.5" height="3" rx="1.2" opacity="0.2"/>
<rect x="330.5" y="451.0" width="22.5" height="3" rx="1.2" opacity="0.2"/>
<rect x="355.6" y="451.0" width="22.5" height="3" rx="1.2" opacity="0.2"/>
<rect x="380.6" y="451.0" width="22.5" height="3" rx="1.2" opacity="0.2"/>
<rect x="405.7" y="451.0" width="22.5" height="3" rx="1.2" opacity="0.2"/>
</g>
<g filter="url(#b1)" fill="#8a8a8a" opacity="0.35"><rect x="303.2" y="455.5" width="1.8" height="13.0"/><rect x="328.3" y="455.5" width="1.8" height="13.0"/><rect x="353.3" y="455.5" width="1.8" height="13.0"/><rect x="378.4" y="455.5" width="1.8" height="13.0"/><rect x="403.5" y="455.5" width="1.8" height="13.0"/></g><rect x="279" y="450" width="150.5" height="19" fill="url(#gr)"/>
<rect x="279" y="471.2" width="150.5" height="19.30000000000001" fill="#828282"/>
<g filter="url(#b2)" fill="#3a3a3a">
<rect x="279.9" y="483.3" width="23.3" height="4" rx="1.2" opacity="0.85"/>
<rect x="305.0" y="483.3" width="23.3" height="4" rx="1.2" opacity="0.85"/>
<rect x="330.1" y="483.3" width="23.3" height="4" rx="1.2" opacity="0.85"/>
<rect x="355.1" y="483.3" width="23.3" height="4" rx="1.2" opacity="0.85"/>
<rect x="380.2" y="483.3" width="23.3" height="4" rx="1.2" opacity="0.85"/>
<rect x="405.3" y="483.3" width="23.3" height="4" rx="1.2" opacity="0.85"/>
</g>
<g filter="url(#b2)" fill="#080808">
<rect x="279.9" y="476.5" width="23.3" height="7.2" rx="1.2" opacity="0.97"/>
<rect x="305.0" y="476.5" width="23.3" height="7.2" rx="1.2" opacity="0.97"/>
<rect x="330.1" y="476.5" width="23.3" height="7.2" rx="1.2" opacity="0.97"/>
<rect x="355.1" y="476.5" width="23.3" height="7.2" rx="1.2" opacity="0.97"/>
<rect x="380.2" y="476.5" width="23.3" height="7.2" rx="1.2" opacity="0.97"/>
<rect x="405.3" y="476.5" width="23.3" height="7.2" rx="1.2" opacity="0.97"/>
</g>
<rect x="279" y="471.2" width="150.5" height="19.30000000000001" fill="url(#gr)"/>
<rect x="279" y="493.5" width="150.5" height="19.0" fill="#b6b6b6"/>
<g filter="url(#b2)" fill="#000">
<rect x="279.9" y="501.4" width="23.3" height="4.2" rx="1.2" opacity="0.97"/>
<rect x="305.0" y="501.4" width="23.3" height="4.2" rx="1.2" opacity="0.92"/>
<rect x="330.1" y="501.4" width="23.3" height="4.2" rx="1.2" opacity="0.97"/>
<rect x="355.1" y="501.4" width="23.3" height="4.2" rx="1.2" opacity="0.9"/>
<rect x="380.2" y="501.4" width="23.3" height="4.2" rx="1.2" opacity="0.8"/>
<rect x="405.3" y="501.4" width="23.3" height="4.2" rx="1.2" opacity="0.25"/>
</g>
<rect x="279" y="515" width="150.5" height="19" fill="#ededed"/>
<g filter="url(#b3)" fill="#000">
<rect x="279.8" y="515.5" width="23.5" height="12" rx="1.2" opacity="0.42"/>
<rect x="304.9" y="515.5" width="23.5" height="12" rx="1.2" opacity="0.36"/>
<rect x="330.0" y="515.5" width="23.5" height="12" rx="1.2" opacity="0.46"/>
<rect x="355.1" y="515.5" width="23.5" height="12" rx="1.2" opacity="0.3"/>
<rect x="380.1" y="515.5" width="23.5" height="12" rx="1.2" opacity="0.33"/>
<rect x="405.2" y="515.5" width="23.5" height="12" rx="1.2" opacity="0.1"/>
</g>
<g filter="url(#b2)" fill="#000">
<rect x="279.8" y="524.4" width="23.5" height="5.4" rx="1.2" opacity="0.92"/>
<rect x="304.9" y="524.4" width="23.5" height="5.4" rx="1.2" opacity="0.85"/>
<rect x="330.0" y="524.4" width="23.5" height="5.4" rx="1.2" opacity="1"/>
<rect x="355.1" y="524.4" width="23.5" height="5.4" rx="1.2" opacity="0.8"/>
<rect x="380.1" y="524.4" width="23.5" height="5.4" rx="1.2" opacity="0.85"/>
<rect x="405.2" y="524.4" width="23.5" height="5.4" rx="1.2" opacity="0.25"/>
</g>
<rect x="279" y="537" width="150.5" height="14" fill="#404040"/>
<g filter="url(#b2)" fill="#666">
<rect x="280.3" y="537.9" width="22.5" height="1.6" rx="0.8" opacity="0.6"/>
<rect x="305.4" y="537.9" width="22.5" height="1.6" rx="0.8" opacity="0.6"/>
<rect x="330.5" y="537.9" width="22.5" height="1.6" rx="0.8" opacity="0.6"/>
<rect x="355.6" y="537.9" width="22.5" height="1.6" rx="0.8" opacity="0.6"/>
<rect x="380.6" y="537.9" width="22.5" height="1.6" rx="0.8" opacity="0.6"/>
<rect x="405.7" y="537.9" width="22.5" height="1.6" rx="0.8" opacity="0.6"/>
</g>
<g filter="url(#b2)" fill="#161616">
<rect x="280.3" y="540.1" width="22.5" height="2.4" rx="1.2" opacity="0.7"/>
<rect x="305.4" y="540.1" width="22.5" height="2.4" rx="1.2" opacity="0.65"/>
<rect x="330.5" y="540.1" width="22.5" height="2.4" rx="1.2" opacity="0.65"/>
<rect x="355.6" y="540.1" width="22.5" height="2.4" rx="1.2" opacity="0.65"/>
<rect x="380.6" y="540.1" width="22.5" height="2.4" rx="1.2" opacity="0.65"/>
<rect x="405.7" y="540.1" width="22.5" height="2.4" rx="1.2" opacity="0.5"/>
</g>
<g filter="url(#b3)" fill="#1c1c1c">
<rect x="280.3" y="545.8" width="22.5" height="3.5" rx="1.2" opacity="0.3"/>
<rect x="305.4" y="545.8" width="22.5" height="3.5" rx="1.2" opacity="0.3"/>
<rect x="330.5" y="545.8" width="22.5" height="3.5" rx="1.2" opacity="0.3"/>
<rect x="355.6" y="545.8" width="22.5" height="3.5" rx="1.2" opacity="0.3"/>
<rect x="380.6" y="545.8" width="22.5" height="3.5" rx="1.2" opacity="0.3"/>
<rect x="405.7" y="545.8" width="22.5" height="3.5" rx="1.2" opacity="0.3"/>
</g>
<g filter="url(#b1)" fill="#8a8a8a" opacity="0.28"><rect x="303.2" y="538" width="1.8" height="12"/><rect x="328.3" y="538" width="1.8" height="12"/><rect x="353.3" y="538" width="1.8" height="12"/><rect x="378.4" y="538" width="1.8" height="12"/><rect x="403.5" y="538" width="1.8" height="12"/></g><rect x="279" y="537" width="150.5" height="14" fill="url(#gr)"/>
<text x="433.5" y="424.8" font-size="8.8" fill="#222" stroke="#222" stroke-width="0.15">ROCK1</text>
<text x="433.5" y="444.8" font-size="8.8" fill="#222" stroke="#222" stroke-width="0.15">ROCK2</text>
<text x="433.5" y="464.1" font-size="8.8" fill="#222" stroke="#222" stroke-width="0.15">pMYPT850</text>
<text x="433.5" y="483.8" font-size="8.8" fill="#222" stroke="#222" stroke-width="0.15">GAPDH</text>
<text x="433.5" y="503.5" font-size="8.8" fill="#222" stroke="#222" stroke-width="0.15">pCdc2</text>
<text x="433.5" y="523.1" font-size="8.8" fill="#222" stroke="#222" stroke-width="0.15">pHistoneH3</text>
<text x="433.5" y="543.4" font-size="8.8" fill="#222" stroke="#222" stroke-width="0.15">cyclinE</text>
<text transform="translate(49.8,662.7) rotate(-45)" font-size="9" fill="#1c1c1c" stroke="#1c1c1c" stroke-width="0.18"><tspan font-style="italic">Rock1</tspan><tspan font-size="5" dy="-3.4">f/f</tspan><tspan dy="3.4" font-size="9">&#8203;</tspan>;<tspan font-style="italic">Rock2</tspan><tspan font-size="5" dy="-3.4">f/f</tspan><tspan dy="3.4" font-size="9">&#8203;</tspan> control</text>
<text transform="translate(77.5,662.7) rotate(-45)" font-size="9" fill="#1c1c1c" stroke="#1c1c1c" stroke-width="0.18"><tspan font-style="italic">Rock1</tspan><tspan font-size="5" dy="-3.4">Δ/Δ</tspan><tspan dy="3.4" font-size="9">&#8203;</tspan>;<tspan font-style="italic">Rock2</tspan><tspan font-size="5" dy="-3.4">Δ/Δ</tspan><tspan dy="3.4" font-size="9">&#8203;</tspan></text>
<text transform="translate(100.8,660.4000000000001) rotate(-45)" font-size="9" fill="#1c1c1c" stroke="#1c1c1c" stroke-width="0.18">wt Ad-Cre-GFP</text>
<text transform="translate(123.8,662.7) rotate(-45)" font-size="9" fill="#1c1c1c" stroke="#1c1c1c" stroke-width="0.18"><tspan font-style="italic">Rock1</tspan><tspan font-size="5" dy="-3.4">f/f</tspan><tspan dy="3.4" font-size="9">&#8203;</tspan>;<tspan font-style="italic">Rock2</tspan><tspan font-size="5" dy="-3.4">f/f</tspan><tspan dy="3.4" font-size="9">&#8203;</tspan> control</text>
<text transform="translate(147.3,662.7) rotate(-45)" font-size="9" fill="#1c1c1c" stroke="#1c1c1c" stroke-width="0.18"><tspan font-style="italic">Rock1</tspan><tspan font-size="5" dy="-3.4">Δ/Δ</tspan><tspan dy="3.4" font-size="9">&#8203;</tspan>;<tspan font-style="italic">Rock2</tspan><tspan font-size="5" dy="-3.4">Δ/Δ</tspan><tspan dy="3.4" font-size="9">&#8203;</tspan></text>
<text transform="translate(171.8,660.4000000000001) rotate(-45)" font-size="9" fill="#1c1c1c" stroke="#1c1c1c" stroke-width="0.18">wt Ad-Cre-GFP</text>
<rect x="37" y="671.5" width="147.5" height="16.0" fill="#cbcbcb"/>
<g filter="url(#b1)" fill="#000">
<rect x="40.2" y="681.6" width="21.2" height="1.4" rx="0.7" opacity="0.3"/>
<rect x="64.5" y="681.4" width="21.2" height="1.4" rx="0.7" opacity="0.25"/>
<rect x="88.7" y="681.2" width="21.2" height="1.4" rx="0.7" opacity="0.3"/>
<rect x="113.0" y="681.0" width="21.2" height="1.4" rx="0.7" opacity="0.55"/>
<rect x="137.2" y="680.8" width="21.2" height="1.4" rx="0.7" opacity="0.5"/>
<rect x="161.4" y="680.6" width="21.2" height="1.4" rx="0.7" opacity="0.5"/>
</g>
<rect x="37" y="690" width="147.5" height="16.5" fill="#989898"/>
<g filter="url(#b1)" fill="#000">
<rect x="40.6" y="696.7" width="20.4" height="2.6" rx="1.2" opacity="0.9"/>
<rect x="64.9" y="696.7" width="20.4" height="2.6" rx="1.2" opacity="0.85"/>
<rect x="89.1" y="696.7" width="20.4" height="2.6" rx="1.2" opacity="0.9"/>
<rect x="113.4" y="696.7" width="20.4" height="2.6" rx="1.2" opacity="0.92"/>
<rect x="137.6" y="696.7" width="20.4" height="2.6" rx="1.2" opacity="0.9"/>
<rect x="161.8" y="696.7" width="20.4" height="2.6" rx="1.2" opacity="0.95"/>
</g>
<g filter="url(#b1)" fill="#000">
<rect x="40.6" y="691.5" width="20.4" height="1.6" rx="0.8" opacity="0.4"/>
<rect x="64.9" y="691.5" width="20.4" height="1.6" rx="0.8" opacity="0.3"/>
<rect x="89.1" y="691.5" width="20.4" height="1.6" rx="0.8" opacity="0.4"/>
<rect x="113.4" y="691.5" width="20.4" height="1.6" rx="0.8" opacity="0.5"/>
<rect x="137.6" y="691.5" width="20.4" height="1.6" rx="0.8" opacity="0.6"/>
<rect x="161.8" y="691.5" width="20.4" height="1.6" rx="0.8" opacity="0.75"/>
</g>
<g filter="url(#b1)" fill="#000">
<rect x="40.6" y="702.1" width="20.4" height="1.7" rx="0.8" opacity="0.4"/>
<rect x="64.9" y="702.1" width="20.4" height="1.7" rx="0.8" opacity="0.4"/>
<rect x="89.1" y="702.1" width="20.4" height="1.7" rx="0.8" opacity="0.4"/>
<rect x="113.4" y="702.1" width="20.4" height="1.7" rx="0.8" opacity="0.5"/>
<rect x="137.6" y="702.1" width="20.4" height="1.7" rx="0.8" opacity="0.6"/>
<rect x="161.8" y="702.1" width="20.4" height="1.7" rx="0.8" opacity="0.75"/>
</g>
<rect x="110" y="690" width="74.5" height="16.5" fill="url(#gr2)"/>
<rect x="37" y="708.5" width="147.5" height="16.0" fill="#d1d1d1"/>
<g filter="url(#b1)" fill="#000">
<rect x="40.2" y="715.7" width="21.2" height="2" rx="1.0" opacity="0.78"/>
<rect x="88.7" y="715.7" width="21.2" height="2" rx="1.0" opacity="0.78"/>
<rect x="113.0" y="715.7" width="21.2" height="2" rx="1.0" opacity="0.82"/>
<rect x="161.4" y="715.7" width="21.2" height="2" rx="1.0" opacity="0.78"/>
</g>
<rect x="37" y="727.5" width="147.5" height="15.5" fill="#d6d6d6"/>
<g filter="url(#b1)" fill="#000">
<rect x="40.2" y="734.5" width="21.2" height="2" rx="1.0" opacity="0.75"/>
<rect x="64.5" y="734.3" width="21.2" height="2" rx="1.0" opacity="0.2"/>
<rect x="88.7" y="734.1" width="21.2" height="2" rx="1.0" opacity="0.7"/>
<rect x="113.0" y="733.9" width="21.2" height="2" rx="1.0" opacity="0.75"/>
<rect x="137.2" y="733.7" width="21.2" height="2" rx="1.0" opacity="0.25"/>
<rect x="161.4" y="733.5" width="21.2" height="2" rx="1.0" opacity="0.8"/>
</g>
<rect x="37" y="745" width="147.5" height="17" fill="#f4f4f4"/>
<g filter="url(#b1)" fill="#000">
<rect x="40.2" y="753.4" width="21.2" height="2.3" rx="1.1" opacity="0.7"/>
<rect x="64.5" y="752.9" width="21.2" height="2.3" rx="1.1" opacity="0.4"/>
<rect x="88.7" y="752.4" width="21.2" height="2.3" rx="1.1" opacity="0.75"/>
<rect x="113.0" y="751.9" width="21.2" height="2.3" rx="1.1" opacity="0.75"/>
<rect x="137.2" y="751.4" width="21.2" height="2.3" rx="1.1" opacity="0.5"/>
<rect x="161.4" y="750.9" width="21.2" height="2.3" rx="1.1" opacity="0.88"/>
</g>
<rect x="37" y="764" width="147.5" height="16" fill="#fafafa"/>
<g filter="url(#b2)" fill="#000">
<rect x="40.2" y="768.3" width="21.2" height="4.2" rx="1.2" opacity="0.97"/>
<rect x="64.5" y="769.9" width="21.2" height="4.2" rx="1.2" opacity="0.3"/>
<rect x="88.7" y="770.9" width="21.2" height="4.2" rx="1.2" opacity="0.5"/>
<rect x="113.0" y="772.2" width="21.2" height="4.2" rx="1.2" opacity="1"/>
<rect x="137.2" y="771.2" width="21.2" height="4.2" rx="1.2" opacity="0.42"/>
<rect x="161.4" y="769.1" width="21.2" height="4.2" rx="1.2" opacity="0.5"/>
</g>
<rect x="37" y="782.5" width="147.5" height="16.0" fill="#4d4d4d"/>
<g filter="url(#b2)" fill="#333">
<rect x="40.2" y="783.5" width="21.2" height="3" rx="1.2" opacity="0.5"/>
<rect x="64.5" y="783.5" width="21.2" height="3" rx="1.2" opacity="0.5"/>
<rect x="88.7" y="783.5" width="21.2" height="3" rx="1.2" opacity="0.5"/>
<rect x="113.0" y="783.5" width="21.2" height="3" rx="1.2" opacity="0.5"/>
<rect x="137.2" y="783.5" width="21.2" height="3" rx="1.2" opacity="0.5"/>
<rect x="161.4" y="783.5" width="21.2" height="3" rx="1.2" opacity="0.5"/>
</g>
<g filter="url(#b2)" fill="#8a8a8a">
<rect x="40.2" y="788.8" width="21.2" height="5" rx="1.2" opacity="0.55"/>
<rect x="64.5" y="788.8" width="21.2" height="5" rx="1.2" opacity="0.55"/>
<rect x="88.7" y="788.8" width="21.2" height="5" rx="1.2" opacity="0.55"/>
<rect x="113.0" y="788.8" width="21.2" height="5" rx="1.2" opacity="0.55"/>
<rect x="137.2" y="788.8" width="21.2" height="5" rx="1.2" opacity="0.55"/>
<rect x="161.4" y="788.8" width="21.2" height="5" rx="1.2" opacity="0.55"/>
</g>
<rect x="37" y="801" width="147.5" height="16" fill="#414141"/>
<g filter="url(#b2)" fill="#707070">
<rect x="40.2" y="806.8" width="21.2" height="6" rx="1.2" opacity="0.45"/>
<rect x="64.5" y="806.8" width="21.2" height="6" rx="1.2" opacity="0.45"/>
<rect x="88.7" y="806.8" width="21.2" height="6" rx="1.2" opacity="0.45"/>
<rect x="113.0" y="806.8" width="21.2" height="6" rx="1.2" opacity="0.45"/>
<rect x="137.2" y="806.8" width="21.2" height="6" rx="1.2" opacity="0.45"/>
<rect x="161.4" y="806.8" width="21.2" height="6" rx="1.2" opacity="0.45"/>
</g>
<rect x="37" y="819" width="147.5" height="15.600000000000023" fill="#c4c4c4"/>
<g filter="url(#b1)" fill="#000">
<rect x="40.2" y="824.7" width="21.2" height="3" rx="1.2" opacity="0.78"/>
<rect x="64.5" y="824.7" width="21.2" height="3" rx="1.2" opacity="0.78"/>
<rect x="88.7" y="824.7" width="21.2" height="3" rx="1.2" opacity="0.78"/>
<rect x="113.0" y="824.7" width="21.2" height="3" rx="1.2" opacity="0.78"/>
<rect x="137.2" y="824.7" width="21.2" height="3" rx="1.2" opacity="0.78"/>
<rect x="161.4" y="824.7" width="21.2" height="3" rx="1.2" opacity="0.78"/>
</g>
<path d="M76 818.5L185 818.5L185 822.6L118 822Z" fill="#fff"/>
<text x="190.5" y="684.6" font-size="8.8" fill="#222" stroke="#222" stroke-width="0.15">pRb795</text>
<text x="190.5" y="703.1" font-size="8.8" fill="#222" stroke="#222" stroke-width="0.15">prb807/811</text>
<text x="190.5" y="721.1" font-size="8.8" fill="#222" stroke="#222" stroke-width="0.15">ROCK1</text>
<text x="190.5" y="739.2" font-size="8.8" fill="#222" stroke="#222" stroke-width="0.15">ROCK2</text>
<text x="190.5" y="757.2" font-size="8.8" fill="#222" stroke="#222" stroke-width="0.15">cyclinA</text>
<text x="190.5" y="776.0" font-size="8.8" fill="#222" stroke="#222" stroke-width="0.15">p16</text>
<text x="190.5" y="794.0" font-size="8.8" fill="#222" stroke="#222" stroke-width="0.15">p27</text>
<text x="190.5" y="812.6" font-size="8.8" fill="#222" stroke="#222" stroke-width="0.15">p21</text>
<text x="190.5" y="830.8" font-size="8.8" fill="#222" stroke="#222" stroke-width="0.15">pCdk2 Thr160</text>
<text transform="translate(305.3,641.4) rotate(-45)" font-size="9" fill="#1c1c1c" stroke="#1c1c1c" stroke-width="0.18">wt Ad-GFP</text>
<text transform="translate(326.8,641.4) rotate(-45)" font-size="9" fill="#1c1c1c" stroke="#1c1c1c" stroke-width="0.18">wt Ad-Cre-GFP</text>
<text transform="translate(350.4,641.4) rotate(-45)" font-size="9" fill="#1c1c1c" stroke="#1c1c1c" stroke-width="0.18"><tspan font-style="italic">Rock1</tspan><tspan font-size="5" dy="-3.4">f/f</tspan><tspan dy="3.4" font-size="9">&#8203;</tspan>;<tspan font-style="italic">Rock2</tspan><tspan font-size="5" dy="-3.4">f/f</tspan><tspan dy="3.4" font-size="9">&#8203;</tspan> control</text>
<text transform="translate(376.4,641.4) rotate(-45)" font-size="9" fill="#1c1c1c" stroke="#1c1c1c" stroke-width="0.18"><tspan font-style="italic">Rock1</tspan><tspan font-size="5" dy="-3.4">Δ/Δ</tspan><tspan dy="3.4" font-size="9">&#8203;</tspan>;<tspan font-style="italic">Rock2</tspan><tspan font-size="5" dy="-3.4">Δ/Δ</tspan><tspan dy="3.4" font-size="9">&#8203;</tspan></text>
<rect x="291.5" y="651" width="98.0" height="16.5" fill="#cacaca"/>
<g filter="url(#b1)" fill="#000">
<rect x="293.4" y="655.0" width="20.6" height="1.8" rx="0.9" opacity="0.33"/>
<rect x="317.2" y="655.0" width="20.6" height="1.8" rx="0.9" opacity="0.33"/>
<rect x="341.1" y="655.0" width="20.6" height="1.8" rx="0.9" opacity="0.33"/>
<rect x="364.9" y="655.0" width="20.6" height="1.8" rx="0.9" opacity="0.18"/>
</g>
<g filter="url(#b1)" fill="#000">
<rect x="293.4" y="660.1" width="20.6" height="2.3" rx="1.1" opacity="0.68"/>
<rect x="317.2" y="660.1" width="20.6" height="2.3" rx="1.1" opacity="0.68"/>
<rect x="341.1" y="660.1" width="20.6" height="2.3" rx="1.1" opacity="0.72"/>
<rect x="364.9" y="660.1" width="20.6" height="2.3" rx="1.1" opacity="0.4"/>
</g>
<rect x="291.5" y="670.3" width="98.0" height="16.300000000000068" fill="#a6a6a6"/>
<g filter="url(#b1)" fill="#000">
<rect x="293.4" y="679.2" width="20.6" height="1.5" rx="0.8" opacity="0.2"/>
<rect x="317.2" y="679.2" width="20.6" height="1.5" rx="0.8" opacity="0.2"/>
<rect x="341.1" y="679.2" width="20.6" height="1.5" rx="0.8" opacity="0.2"/>
<rect x="364.9" y="679.2" width="20.6" height="1.5" rx="0.8" opacity="0.15"/>
</g>
<rect x="291.5" y="690" width="98.0" height="15.5" fill="#ededed"/>
<g filter="url(#b1)" fill="#000">
<rect x="293.4" y="701.8" width="20.6" height="1.8" rx="0.9" opacity="0.78"/>
<rect x="317.2" y="701.8" width="20.6" height="1.8" rx="0.9" opacity="0.72"/>
<rect x="341.1" y="701.8" width="20.6" height="1.8" rx="0.9" opacity="0.78"/>
<rect x="364.9" y="701.8" width="20.6" height="1.8" rx="0.9" opacity="0.4"/>
</g>
<rect x="291.5" y="709.2" width="98.0" height="15.799999999999955" fill="#d0d0d0"/>
<g filter="url(#b1)" fill="#000">
<rect x="293.4" y="715.2" width="20.6" height="1.5" rx="0.8" opacity="0.25"/>
<rect x="317.2" y="715.2" width="20.6" height="1.5" rx="0.8" opacity="0.2"/>
<rect x="341.1" y="715.2" width="20.6" height="1.5" rx="0.8" opacity="0.2"/>
<rect x="364.9" y="715.2" width="20.6" height="1.5" rx="0.8" opacity="0.15"/>
</g>
<rect x="291.5" y="728.5" width="98.0" height="15.0" fill="#ededed"/>
<g filter="url(#b1)" fill="#000">
<rect x="293.4" y="734.7" width="20.6" height="2.6" rx="1.2" opacity="0.9"/>
<rect x="317.2" y="734.7" width="20.6" height="2.6" rx="1.2" opacity="0.9"/>
<rect x="341.1" y="734.7" width="20.6" height="2.6" rx="1.2" opacity="0.95"/>
<rect x="364.9" y="734.7" width="20.6" height="2.6" rx="1.2" opacity="0.3"/>
</g>
<rect x="291.5" y="747.6" width="98.0" height="16.199999999999932" fill="#e3e3e3"/>
<g filter="url(#b1)" fill="#000">
<rect x="293.4" y="751.5" width="20.6" height="1.5" rx="0.8" opacity="0.15"/>
<rect x="317.2" y="751.5" width="20.6" height="1.5" rx="0.8" opacity="0.4"/>
<rect x="341.1" y="751.5" width="20.6" height="1.5" rx="0.8" opacity="0.2"/>
<rect x="364.9" y="751.5" width="20.6" height="1.5" rx="0.8" opacity="0.4"/>
</g>
<g filter="url(#b2)" fill="#000">
<rect x="293.4" y="755.0" width="20.6" height="4" rx="1.2" opacity="0.45"/>
<rect x="317.2" y="755.0" width="20.6" height="4" rx="1.2" opacity="0.85"/>
<rect x="341.1" y="755.0" width="20.6" height="4" rx="1.2" opacity="0.55"/>
<rect x="364.9" y="755.0" width="20.6" height="4" rx="1.2" opacity="0.75"/>
</g>
<rect x="291.5" y="768" width="98.0" height="15" fill="#f6f6f6"/>
<g filter="url(#b1)" fill="#000">
<rect x="293.4" y="770.8" width="20.6" height="1.3" rx="0.7" opacity="0.6"/>
<rect x="317.2" y="770.8" width="20.6" height="1.3" rx="0.7" opacity="0.6"/>
<rect x="341.1" y="770.8" width="20.6" height="1.3" rx="0.7" opacity="0.6"/>
<rect x="364.9" y="769.9" width="20.6" height="1.3" rx="0.7" opacity="0.6"/>
</g>
<g filter="url(#b1)" fill="#000">
<rect x="293.4" y="776.2" width="20.6" height="2.4" rx="1.2" opacity="0.92"/>
<rect x="317.2" y="776.2" width="20.6" height="2.4" rx="1.2" opacity="0.92"/>
<rect x="341.1" y="776.2" width="20.6" height="2.4" rx="1.2" opacity="0.92"/>
<rect x="364.9" y="775.3" width="20.6" height="2.4" rx="1.2" opacity="0.92"/>
</g>
<g filter="url(#b1)" fill="#000">
<rect x="293.4" y="780.4" width="20.6" height="1.2" rx="0.6" opacity="0.2"/>
<rect x="317.2" y="780.4" width="20.6" height="1.2" rx="0.6" opacity="0.2"/>
<rect x="341.1" y="780.4" width="20.6" height="1.2" rx="0.6" opacity="0.3"/>
<rect x="364.9" y="780.4" width="20.6" height="1.2" rx="0.6" opacity="0.1"/>
</g>
<rect x="291.5" y="786.5" width="98.0" height="15.5" fill="#ececec"/>
<g filter="url(#b2)" fill="#000">
<rect x="293.4" y="790.2" width="20.6" height="3.5" rx="1.2" opacity="0.8"/>
<rect x="317.2" y="790.2" width="20.6" height="3.5" rx="1.2" opacity="0.6"/>
<rect x="341.1" y="790.2" width="20.6" height="3.5" rx="1.2" opacity="0.85"/>
<rect x="364.9" y="790.2" width="20.6" height="3.5" rx="1.2" opacity="0.7"/>
</g>
<rect x="291.5" y="805.8" width="98.0" height="15.400000000000091" fill="#e7e7e7"/>
<g filter="url(#b2)" fill="#000">
<rect x="293.4" y="811.7" width="20.6" height="3" rx="1.2" opacity="0.65"/>
<rect x="317.2" y="811.7" width="20.6" height="3" rx="1.2" opacity="0.45"/>
<rect x="341.1" y="811.7" width="20.6" height="3" rx="1.2" opacity="0.8"/>
<rect x="364.9" y="810.7" width="20.6" height="3" rx="1.2" opacity="0.65"/>
</g>
<rect x="291.5" y="824.3" width="98.0" height="16.200000000000045" fill="#d7d7d7"/>
<g filter="url(#b2)" fill="#000">
<rect x="293.4" y="829.4" width="20.6" height="3.2" rx="1.2" opacity="0.15"/>
<rect x="317.2" y="829.4" width="20.6" height="3.2" rx="1.2" opacity="0.2"/>
<rect x="341.1" y="829.4" width="20.6" height="3.2" rx="1.2" opacity="0.8"/>
<rect x="364.9" y="829.4" width="20.6" height="3.2" rx="1.2" opacity="0.1"/>
</g>
<text x="391.9" y="660.8" font-size="8.8" fill="#222" stroke="#222" stroke-width="0.15">pRb608</text>
<text x="391.9" y="679.8" font-size="8.8" fill="#222" stroke="#222" stroke-width="0.15">pRb795</text>
<text x="391.9" y="700.4" font-size="8.8" fill="#222" stroke="#222" stroke-width="0.15">p107</text>
<text x="391.9" y="719.5" font-size="8.8" fill="#222" stroke="#222" stroke-width="0.15">p130</text>
<text x="391.9" y="739.4" font-size="8.8" fill="#222" stroke="#222" stroke-width="0.15">cyclinA</text>
<text x="391.9" y="758.9" font-size="8.8" fill="#222" stroke="#222" stroke-width="0.15">cyclinD1</text>
<text x="391.9" y="778.1" font-size="8.8" fill="#222" stroke="#222" stroke-width="0.15">ERK</text>
<text x="391.9" y="797.9" font-size="8.8" fill="#222" stroke="#222" stroke-width="0.15">p27</text>
<text x="391.9" y="817.8" font-size="8.8" fill="#222" stroke="#222" stroke-width="0.15">p19</text>
<text x="391.9" y="837.5" font-size="8.8" fill="#222" stroke="#222" stroke-width="0.15">CKS-1</text>
<g filter="url(#tb)">
<circle cx="307.6" cy="418.6" r="0.8" fill="#333"/>
<circle cx="316.5" cy="421.2" r="0.9" fill="#333"/>
<circle cx="300.1" cy="452.2" r="0.8" fill="#111"/>
<circle cx="315" cy="548.3" r="0.7" fill="#0a0a0a"/>
<circle cx="318.5" cy="549" r="0.6" fill="#0a0a0a"/>
<circle cx="322" cy="548" r="0.7" fill="#0a0a0a"/>
<circle cx="327" cy="548.6" r="0.7" fill="#0a0a0a"/>
<circle cx="352" cy="548.4" r="0.6" fill="#0a0a0a"/>
<circle cx="358" cy="549" r="0.7" fill="#0a0a0a"/>
<circle cx="384" cy="548.8" r="0.6" fill="#0a0a0a"/>
<circle cx="388" cy="547.8" r="0.7" fill="#0a0a0a"/>
<circle cx="53.4" cy="675" r="1.0" fill="#666"/>
<circle cx="55.2" cy="674.3" r="0.7" fill="#777"/>
<circle cx="42" cy="797" r="0.7" fill="#111"/>
<circle cx="147.2" cy="785.8" r="0.8" fill="#111"/>
<circle cx="151.3" cy="479.5" r="0.8" fill="#555"/>
<circle cx="53.8" cy="481.3" r="0.7" fill="#666"/>
<circle cx="60" cy="451" r="0.7" fill="#777"/>
<circle cx="73" cy="439.5" r="0.8" fill="#999"/>
<circle cx="294.5" cy="711" r="0.6" fill="#444"/>
<circle cx="303.2" cy="709.5" r="0.6" fill="#444"/>
<circle cx="337.4" cy="710.4" r="0.6" fill="#444"/>
<circle cx="374.7" cy="715.3" r="0.7" fill="#444"/>
<circle cx="380" cy="712" r="0.6" fill="#555"/>
<circle cx="383" cy="720" r="0.7" fill="#444"/>
<circle cx="388" cy="722" r="0.7" fill="#333"/>
<circle cx="376" cy="722" r="0.6" fill="#555"/>
<circle cx="310" cy="721" r="0.5" fill="#555"/>
<circle cx="296" cy="719" r="0.5" fill="#555"/>
<circle cx="75.5" cy="457.5" r="0.6" fill="#666"/>
<rect x="51.2" y="783" width="1.1" height="14" fill="#222" opacity=".45"/>
</g>
</svg></body></html>
